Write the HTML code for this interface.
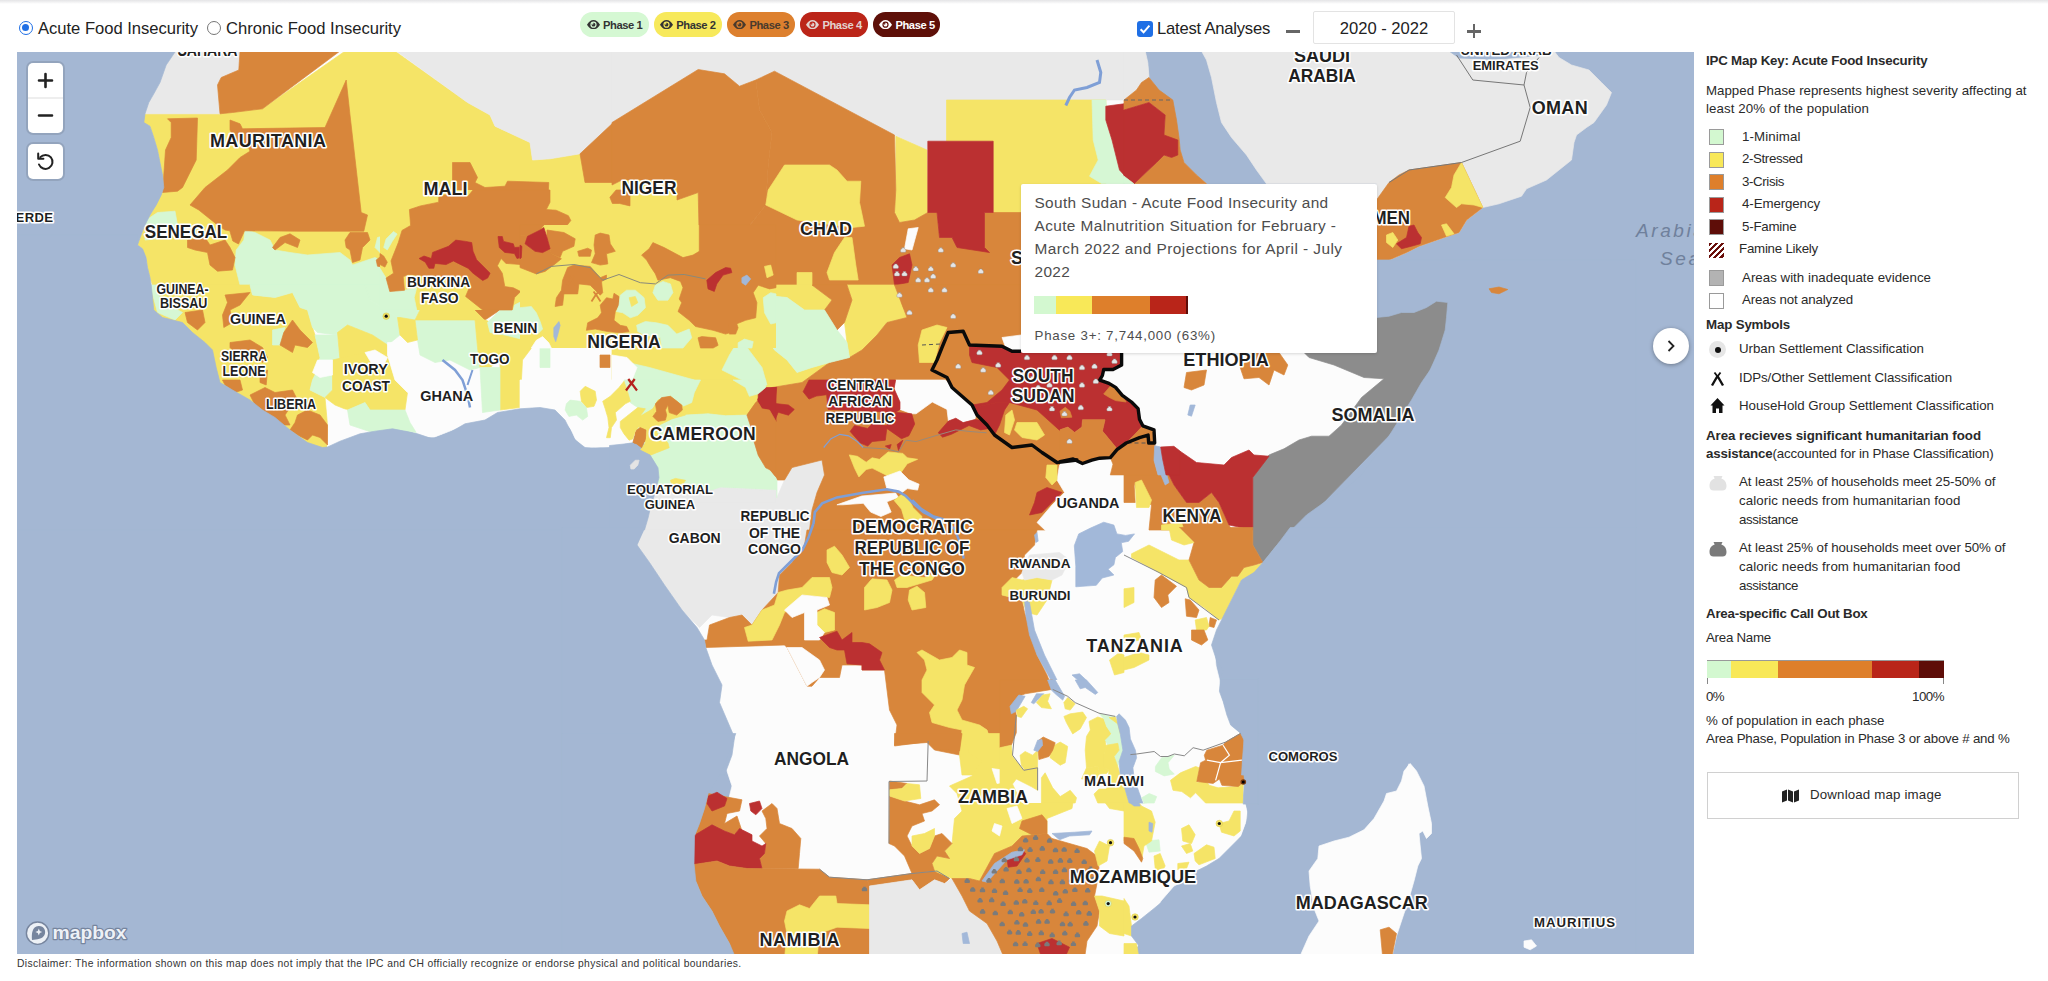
<!DOCTYPE html>
<html lang="en">
<head>
<meta charset="utf-8">
<title>IPC Map</title>
<style>
*{box-sizing:border-box;margin:0;padding:0}
html,body{width:2048px;height:981px;overflow:hidden;background:#fff}
body{font-family:"Liberation Sans",sans-serif;color:#222;position:relative}
.abs{position:absolute}
.topshadow{left:0;top:0;width:2048px;height:4px;background:linear-gradient(#e4e4e6,#fff)}
.t{position:absolute;white-space:nowrap;line-height:1}
/* top bar */
.radio{position:absolute;width:14px;height:14px;border-radius:50%;border:1.3px solid #767676;background:#fff}
.radio.on{border:1.6px solid #1f6fe5}
.radio.on:after{content:"";position:absolute;left:2px;top:2px;width:7.4px;height:7.4px;border-radius:50%;background:#1f6fe5}
.tb{font-size:16.6px;color:#222;top:21.2px}
.pill{position:absolute;top:12.4px;height:24.6px;border-radius:12.3px;font-weight:bold;font-size:11.2px;letter-spacing:-.42px;line-height:24.6px;text-align:left;padding-left:6.2px;white-space:nowrap}
.pill svg{vertical-align:-1px;margin-right:3.4px}.pill span{position:relative;top:.8px}
.chk{left:1137px;top:21px;width:16px;height:16px;border-radius:3px;background:#1f6fe5}
.yrbox{left:1313px;top:11px;width:142px;height:33px;border:1px solid #e3e3e3;border-radius:2px;text-align:center;font-size:16.6px;line-height:33px;color:#222}
/* sidebar */
.sb{font-size:13.3px;color:#2a2a2a}
.sb.b{font-weight:bold}
.sq{position:absolute;left:1709px;width:15px;height:16px;margin-top:-0.4px;border:1px solid #9a9a9a}
/* map */
#map{left:17px;top:52px;width:1677px;height:902px;overflow:hidden;background:#a5b7d2}
.ctrl{position:absolute;left:11px;width:35px;background:#fff;border-radius:5px;box-shadow:0 0 0 2px rgba(0,0,0,.1)}
.pop{left:1021px;top:184px;width:356px;height:168.5px;background:#fff;border-radius:2px;box-shadow:0 1px 3px rgba(0,0,0,.15)}
.pop .t{color:#4d4d4d}
</style>
</head>
<body>
<div class="abs topshadow"></div>

<!-- top bar -->
<div class="radio on" style="left:19px;top:21px"></div>
<div class="t tb" style="left:38px;letter-spacing:-0.024px">Acute Food Insecurity</div>
<div class="radio" style="left:207px;top:21px"></div>
<div class="t tb" style="left:226px;letter-spacing:-0.010px">Chronic Food Insecurity</div>

<div class="pill" style="left:580.4px;width:68.4px;background:#d5f8d3;color:#333"><svg width="13" height="9.300" viewBox="0 0 13 9.300"><path d="M0,4.650C1.800,1.600 4,0 6.500,0S11.200,1.600 13,4.650C11.200,7.700 9,9.300 6.500,9.300S1.800,7.700 0,4.650Z" fill="#333"/><circle cx="6.500" cy="4.650" r="3.100" fill="#d5f8d3"/><circle cx="6.500" cy="4.650" r="1.900" fill="#333"/><circle cx="5.700" cy="3.850" r=".8" fill="#d5f8d3"/></svg><span>Phase 1</span></div>
<div class="pill" style="left:653.7px;width:68.3px;background:#f7e95b;color:#333"><svg width="13" height="9.300" viewBox="0 0 13 9.300"><path d="M0,4.650C1.800,1.600 4,0 6.500,0S11.200,1.600 13,4.650C11.200,7.700 9,9.300 6.500,9.300S1.800,7.700 0,4.650Z" fill="#333"/><circle cx="6.500" cy="4.650" r="3.100" fill="#f7e95b"/><circle cx="6.500" cy="4.650" r="1.900" fill="#333"/><circle cx="5.700" cy="3.850" r=".8" fill="#f7e95b"/></svg><span>Phase 2</span></div>
<div class="pill" style="left:726.8px;width:68.4px;background:#dd802e;color:#4a3a2c"><svg width="13" height="9.300" viewBox="0 0 13 9.300"><path d="M0,4.650C1.800,1.600 4,0 6.500,0S11.200,1.600 13,4.650C11.200,7.700 9,9.300 6.500,9.300S1.800,7.700 0,4.650Z" fill="#4a3a2c"/><circle cx="6.500" cy="4.650" r="3.100" fill="#dd802e"/><circle cx="6.500" cy="4.650" r="1.900" fill="#4a3a2c"/><circle cx="5.700" cy="3.850" r=".8" fill="#dd802e"/></svg><span>Phase 3</span></div>
<div class="pill" style="left:799.8px;width:67.9px;background:#bb2519;color:#e3d3cf"><svg width="13" height="9.300" viewBox="0 0 13 9.300"><path d="M0,4.650C1.800,1.600 4,0 6.500,0S11.200,1.600 13,4.650C11.200,7.700 9,9.300 6.500,9.300S1.800,7.700 0,4.650Z" fill="#e3d3cf"/><circle cx="6.500" cy="4.650" r="3.100" fill="#bb2519"/><circle cx="6.500" cy="4.650" r="1.900" fill="#e3d3cf"/><circle cx="5.700" cy="3.850" r=".8" fill="#bb2519"/></svg><span>Phase 4</span></div>
<div class="pill" style="left:872.8px;width:67.2px;background:#5e1009;color:#fff"><svg width="13" height="9.300" viewBox="0 0 13 9.300"><path d="M0,4.650C1.800,1.600 4,0 6.500,0S11.200,1.600 13,4.650C11.200,7.700 9,9.300 6.500,9.300S1.800,7.700 0,4.650Z" fill="#fff"/><circle cx="6.500" cy="4.650" r="3.100" fill="#5e1009"/><circle cx="6.500" cy="4.650" r="1.900" fill="#fff"/><circle cx="5.700" cy="3.850" r=".8" fill="#5e1009"/></svg><span>Phase 5</span></div>

<div class="abs chk"><svg width="16" height="16" viewBox="0 0 16 16"><path d="M3.600 8.300l3 3 5.800-6.600" fill="none" stroke="#fff" stroke-width="2"/></svg></div>
<div class="t tb" style="left:1157px;letter-spacing:-0.216px">Latest Analyses</div>
<div class="abs" style="left:1286px;top:30px;width:14px;height:2.500px;background:#666"></div>
<div class="abs yrbox">2020 - 2022</div>
<div class="abs" style="left:1467px;top:30px;width:14px;height:2.500px;background:#666"></div>
<div class="abs" style="left:1472.800px;top:24px;width:2.500px;height:14px;background:#666"></div>

<!-- MAP -->
<div class="abs" id="map">
<svg class="abs" style="left:0;top:0" width="1677" height="902" viewBox="17 52 1677 902">
<rect x="17" y="52" width="1677" height="902" fill="#a4b7d3"/>
<polygon points="170,51 165,60 159,75 150,95 145,115 150,130 156,147 161,165 165,185 161,200 152,212 142,230 136,245 145,250 147,260 145,275 150,285 152,300 165,312 180,325 197,340 210,355 215,370 222,385 240,397 260,412 280,427 300,437 320,446 327,447 350,437 375,430 400,427 425,437 435,437 460,427 485,420 520,410 545,407 565,422 580,440 595,447 620,447 635,435 645,440 655,455 660,470 655,485 650,500 647,515 645,530 640,551 637,566 635,581 632,586 645,596 655,611 670,631 687,651 697,666 705,681 707,691 715,711 722,731 720,751 727,771 732,786 727,806 720,821 710,836 702,856 697,876 694,901 697,921 705,941 712,960 1128,960 1141,941 1151,921 1161,901 1174,886 1194,876 1214,863 1229,851 1241,836 1248,816 1244,796 1244,776 1243,756 1241,736 1234,726 1226,706 1221,686 1216,666 1214,646 1221,631 1224,616 1234,601 1239,586 1246,576 1259,566 1269,556 1284,541 1299,521 1314,506 1329,496 1349,475 1374,440 1394,410 1409,390 1424,370 1434,350 1441,330 1446,315 1449,302 1436,301 1424,310 1404,315 1384,320 1376,322 1340,325 1300,330 1260,335 1230,330 1200,315 1195,290 1200,240 1211,185 1199,170 1184,152 1179,140 1174,115 1169,100 1156,90 1149,70 1144,51" fill="#fcfcfc" stroke="#fcfcfc" stroke-width=".7"/>
<polygon points="1409,763 1419,781 1424,801 1431,826 1429,841 1419,861 1409,891 1399,921 1391,960 1299,960 1311,926 1309,891 1314,866 1319,848 1344,841 1369,821 1384,801 1389,788 1401,776" fill="#fcfcfc" stroke="#fcfcfc" stroke-width=".7"/>
<polygon points="145,113.8 220,113.8 262.5,108.8 343.8,52 396.2,52 467.5,102.5 490,115 495,126.2 530,142.5 532.5,160 550,158.8 580,153.8 612,153.8 612,285 152.5,285 150,277.5 147.5,267.5 146.2,257.5 142.5,248.8 137.5,245 143.8,227.5 150,215 156.2,205 161.2,195 163.8,187.5 162.5,175 160,162.5 157.5,150 153.8,137.5 150,126.2 143.8,122.5" fill="#f5e467" stroke="#f5e467" stroke-width=".7"/>
<polygon points="175,51 166.2,65 160,82.5 153.8,93.8 148.8,102.5 145,113.8 220,113.8 217.5,85 221.2,77.5 238.8,70 240,51" fill="#e9e9e9" stroke="#e9e9e9" stroke-width=".7"/>
<polygon points="396.2,51 467.5,102.5 490,115 495,126.2 530,142.5 532.5,160 550,158.8 580,153.8 612,123.8 612,51" fill="#e9e9e9" stroke="#e9e9e9" stroke-width=".7"/>
<polygon points="245,230 255,232.5 270,240 275,250 290,252.5 307.5,255 340,252.5 350,260 352.5,265 375,257.5 390,265 390,285 240,285 235,265 236.2,250 243.8,240" fill="#d6f7d4" stroke="#d6f7d4" stroke-width=".7"/>
<polygon points="377.5,237.5 400,231.2 398.8,247.5 382.5,255 375,247.5" fill="#d6f7d4" stroke="#d6f7d4" stroke-width=".7"/>
<polygon points="146.2,220 157.5,212.5 175,211.2 177.5,225 170,237.5 145,240" fill="#d6f7d4" stroke="#d6f7d4" stroke-width=".7"/>
<polygon points="240,51 238.8,70 221.2,77.5 217.5,85 220,113.8 232.5,112.5 262.5,108.8 340,51" fill="#d8863b" stroke="#d8863b" stroke-width=".7"/>
<polygon points="167.5,118.8 197.5,118 196.2,160 191.2,170 182.5,187.5 177.5,191.2 162.5,192.5 163.8,175 165.5,150 171.2,137.5 171.2,122.5" fill="#d8863b" stroke="#d8863b" stroke-width=".7"/>
<polygon points="230,120 240,123.8 242.5,128.8 325,127.5 346.2,80 350,115 361.2,212.5 367.5,215 363.8,231.2 300,231.2 244.5,230.8 238.5,244 232.8,241 229.8,230.8 225,230 217.5,225 205,215 198.8,210 190,205 205,187.5 227.5,170 240,157.5 250,151.2 247.5,145 235,140 230,130" fill="#d8863b" stroke="#d8863b" stroke-width=".7"/>
<polygon points="187.5,240 205,237.5 210,245 225,240 230,247.5 235,257.5 232.5,270 217.5,271.2 210,265 207.5,252.5 195,250 187.5,247.5" fill="#d8863b" stroke="#d8863b" stroke-width=".7"/>
<polygon points="272.5,247.5 280,237.5 290,233.8 300,240 297.5,247.5 285,242.5 275,250" fill="#d8863b" stroke="#d8863b" stroke-width=".7"/>
<polygon points="345,240 350,232.5 367.5,232.5 370,240 362.5,247.5 360,260 352.5,262.5 350,250 346.2,247.5" fill="#d8863b" stroke="#d8863b" stroke-width=".7"/>
<polygon points="376.2,260 382.5,255 387.5,262.5 385,267.5 377.5,266.2" fill="#d8863b" stroke="#d8863b" stroke-width=".7"/>
<polygon points="452.5,162.5 470,162.5 477.5,177.5 475,182.5 485,187.5 505,186.2 507.5,181.2 548.8,182.5 547.5,210 562.5,211.2 570,220 565,232.5 572.5,240 575,247.5 565,252.5 550,250 547.5,265 537.5,272.5 525,265 512.5,270 500,280 490,285 390,285 390,265 397.5,257.5 400,240 402.5,230 410,225 410,210 425,205 450,202.5 455,195 452.5,185" fill="#d8863b" stroke="#d8863b" stroke-width=".7"/>
<polygon points="580,153.8 612,123.8 612,182.5 585,182.5" fill="#d8863b" stroke="#d8863b" stroke-width=".7"/>
<polygon points="420,260 430,252.5 450,245 460,240 472.5,242.5 475,255 482.5,265 490,272.5 485,280 475,275 465,265 455,260 445,265 432.5,267.5 425,265" fill="#bb3031" stroke="#bb3031" stroke-width=".7"/>
<polygon points="497.5,237.5 502.5,236.2 505,242.5 520,245 522.5,252.5 517.5,257.5 505,255 500,250" fill="#bb3031" stroke="#bb3031" stroke-width=".7"/>
<polygon points="527.5,240 540,228.8 545,230 548.8,250 540,252.5 532.5,247.5" fill="#bb3031" stroke="#bb3031" stroke-width=".7"/>
<polygon points="612,51 612,122.5 698.2,69.5 724.5,73.8 739.5,86.2 755.8,80 774.5,71.2 894.5,135 927,150 927.8,141.2 946.5,141.2 946.5,100 1124,100 1124,51" fill="#e9e9e9" stroke="#e9e9e9" stroke-width=".7"/>
<polygon points="946.5,100 1105.8,100 1105.8,215 984.5,215 993.2,212.5 993.2,141.2 946.5,141.2" fill="#f5e467" stroke="#f5e467" stroke-width=".7"/>
<polygon points="895.8,136.2 927,150 927.8,212.5 914.5,220 899.5,222.5 894.5,212.5 895.8,190" fill="#f5e467" stroke="#f5e467" stroke-width=".7"/>
<polygon points="612,185 622,180 677,180 677,200 698.2,192.5 699.5,252.5 672,257.5 654.5,242.5 644.5,252.5 644.5,285 612,285" fill="#f5e467" stroke="#f5e467" stroke-width=".7"/>
<polygon points="612,122.5 698.2,69.5 724.5,73.8 739.5,86.2 755.8,80 759.5,110 772,132.5 768.2,165 765.8,205 752,222.5 737,240 729.5,252.5 699.5,252.5 698.2,192.5 677,200 677,180 622,180 612,185" fill="#d8863b" stroke="#d8863b" stroke-width=".7"/>
<polygon points="755.8,80 774.5,71.2 894.5,135 895.8,190 894.5,212.5 899.5,222.5 914.5,220 927.8,212.5 937,212.5 939.5,237.5 952,237.5 957,247.5 984.5,247.5 984.5,212.5 1022,212.5 1022,285 644.5,285 644.5,252.5 654.5,242.5 672,257.5 699.5,252.5 729.5,252.5 737,240 752,222.5 765.8,205 768.2,165 772,132.5 759.5,110" fill="#d8863b" stroke="#d8863b" stroke-width=".7"/>
<polygon points="784.5,165 829.5,165 837,170 847,181.2 860.8,181.2 859.5,202.5 864.5,226.2 852,227.5 797,220 765.8,205 768.2,190" fill="#f5e467" stroke="#f5e467" stroke-width=".7"/>
<polygon points="844.5,237.5 852,237.5 855.8,265 858.2,280 829.5,280 827,272.5 834.5,252.5" fill="#f5e467" stroke="#f5e467" stroke-width=".7"/>
<polygon points="764.5,266.2 772,266.2 773.2,277.5 764.5,277.5" fill="#f5e467" stroke="#f5e467" stroke-width=".7"/>
<polygon points="797,272.5 812,272.5 812,285 797,285" fill="#f5e467" stroke="#f5e467" stroke-width=".7"/>
<polygon points="908.2,228.8 918.2,227.5 912,250 904.5,248.8" fill="#fcfcfc" stroke="#fcfcfc" stroke-width=".7"/>
<polygon points="1092,100 1105.8,100 1107,115 1112,140 1119.5,170 1124,176.2 1124,183.8 1102,183.8 1089.5,176.2 1098.2,160 1093.2,140" fill="#d6f7d4" stroke="#d6f7d4" stroke-width=".7"/>
<polygon points="1105.8,106.2 1124,103.8 1124,175 1119.5,170 1112,140 1105.8,120" fill="#bb3031" stroke="#bb3031" stroke-width=".7"/>
<polygon points="899.5,257.5 909.5,253.8 912,265 908.2,282.5 894.5,285 892,265" fill="#bb3031" stroke="#bb3031" stroke-width=".7"/>
<polygon points="902.3,289.3 909,289.3 908.4,297.8 912.7,297.8 904.8,308.9 900.5,307.6 902.3,297.8" fill="#bb3031" stroke="#bb3031" stroke-width=".7"/>
<polygon points="927.8,141.2 993.2,141.2 993.2,212.5 984.5,212.5 984.5,247.5 989.5,252.5 957,247.5 952,237.5 939.5,237.5 937,212.5 927.8,212.5" fill="#bb3031" stroke="#bb3031" stroke-width=".7"/>
<polygon points="707,280 717,271.2 727,267.5 732,272.5 722,278.8 714.5,285 708.2,285" fill="#bb3031" stroke="#bb3031" stroke-width=".7"/>
<polygon points="743.2,277.5 749.5,276.2 750.8,283.8 744.5,284.5" fill="#a2b8d9" stroke="#a2b8d9" stroke-width=".7"/>
<polygon points="1145.2,51 1147.8,62.5 1149,77.5 1159,90 1172.8,100 1176.5,120 1179,137.5 1180.2,150 1184,162.5 1196.5,175 1206.5,183.8 1224,200 1376.5,200 1376.5,183.8 1266.5,183.8 1256.5,170 1246.5,155 1231.5,137.5 1221.5,122.5 1216.5,102.5 1211.5,77.5 1206.5,60 1201.5,51" fill="#a4b7d3" stroke="#a4b7d3" stroke-width=".7"/>
<polygon points="1124,51 1145.2,51 1147.8,62.5 1149,77.5 1141.5,82.5 1136.5,90 1124,100" fill="#e9e9e9" stroke="#e9e9e9" stroke-width=".7"/>
<polygon points="1201.5,51 1206.5,60 1211.5,77.5 1216.5,102.5 1221.5,122.5 1231.5,137.5 1246.5,155 1256.5,170 1266.5,183.8 1376.5,183.8 1376.5,263.8 1389,260 1406.5,252.5 1419,246.2 1444,237.5 1459,232.5 1466.5,220 1482.8,207.5 1499,203.8 1521.5,196.2 1526.5,188.8 1546.5,180 1559,170 1571.5,160 1574,142.5 1576.5,135 1586.5,127.5 1594,122.5 1606.5,105 1611.5,92.5 1601.5,82.5 1589,70 1571.5,65 1559,57.5 1554,51" fill="#e9e9e9" stroke="#e9e9e9" stroke-width=".7"/>
<polygon points="1449,51 1459,58 1494,59.5 1539,55.5 1554,51" fill="#a4b7d3" stroke="#a4b7d3" stroke-width=".7"/>
<polygon points="1149,77.5 1159,90 1172.8,100 1176.5,120 1179,137.5 1180.2,150 1184,162.5 1196.5,175 1206.5,183.8 1134,183.8 1156.5,162.5 1164,155 1171.5,157.5 1177.8,150 1164,135 1165.2,115 1149,102.5 1124,110 1124,100 1136.5,90 1141.5,82.5" fill="#d8863b" stroke="#d8863b" stroke-width=".7"/>
<polygon points="1124,110 1149,102.5 1165.2,115 1164,135 1177.8,140 1177.8,155 1171.5,157.5 1164,155 1156.5,162.5 1134,183.8 1124,176.2" fill="#bb3031" stroke="#bb3031" stroke-width=".7"/>
<polygon points="1124,176.2 1134,183.8 1124,183.8" fill="#d6f7d4" stroke="#d6f7d4" stroke-width=".7"/>
<polygon points="1376.5,200 1389,182.5 1399,175 1409,170 1461.5,162.5 1482.8,207.5 1466.5,220 1459,232.5 1444,237.5 1419,246.2 1406.5,252.5 1389,260 1376.5,263.8" fill="#d8863b" stroke="#d8863b" stroke-width=".7"/>
<polygon points="1461.5,162.5 1482.8,207.5 1474,205 1461.5,203.8 1456.5,207.5 1445.2,197.5 1451.5,187.5 1454,175" fill="#f5e467" stroke="#f5e467" stroke-width=".7"/>
<polygon points="1441.5,225 1446.5,223.8 1454,233.8 1446.5,236.2" fill="#f5e467" stroke="#f5e467" stroke-width=".7"/>
<polygon points="1386.5,235 1392.8,232.5 1397.8,240 1392.8,247.5 1386.5,242.5" fill="#f5e467" stroke="#f5e467" stroke-width=".7"/>
<polygon points="1409,226.2 1414,225 1417.8,232.5 1421.5,237.5 1420.2,243.8 1411.5,246.2 1401.5,248.8 1396.5,243.8 1406.5,237.5" fill="#bb3031" stroke="#bb3031" stroke-width=".7"/>
<polygon points="150,285 250,285 252.5,295 275,297.5 292.5,292.5 300,307.5 307.5,310 312.5,327.5 315,335 320,357.5 317.5,370 312.5,380 310,390 325,397.5 327.5,425 327.5,450 275,450 200,385 150,335" fill="#f5e467" stroke="#f5e467" stroke-width=".7"/>
<polygon points="250,285 390,285 370,300 397.5,317.5 400,335 387.5,345 372.5,335 360,330 347.5,325 337.5,335 317.5,332.5 312.5,327.5 307.5,310 300,307.5 292.5,292.5 275,297.5 252.5,295" fill="#d6f7d4" stroke="#d6f7d4" stroke-width=".7"/>
<polygon points="272.5,330 285,327.5 280,345 272.5,345" fill="#d6f7d4" stroke="#d6f7d4" stroke-width=".7"/>
<polygon points="315,335 337.5,335 340,360 332.5,367.5 332.5,390 325,397.5 310,390 312.5,380 317.5,370 320,357.5" fill="#d6f7d4" stroke="#d6f7d4" stroke-width=".7"/>
<polygon points="337.5,332.5 347.5,325 360,330 372.5,335 387.5,345 387.5,355 365,352.5 360,360 340,360" fill="#f5e467" stroke="#f5e467" stroke-width=".7"/>
<polygon points="332.5,360 365,352.5 387.5,355 395,380 407.5,392.5 405,410 370,410 365,402.5 347.5,410 335,405 325,397.5 332.5,390" fill="#f5e467" stroke="#f5e467" stroke-width=".7"/>
<polygon points="387.5,342.5 412.5,342.5 418.8,357.5 420,375 410,385 407.5,392.5 395,380 387.5,355" fill="#fcfcfc" stroke="#fcfcfc" stroke-width=".7"/>
<polygon points="317.5,360 332.5,360 332.5,375 320,377.5 312.5,372.5" fill="#fcfcfc" stroke="#fcfcfc" stroke-width=".7"/>
<polygon points="328.8,410 347.5,410 350,425 372.5,432.5 360,435 327.5,447.5" fill="#fcfcfc" stroke="#fcfcfc" stroke-width=".7"/>
<polygon points="365,352.5 375,350 387.5,357.5 382.5,367.5 372.5,365" fill="#fcfcfc" stroke="#fcfcfc" stroke-width=".7"/>
<polygon points="347.5,410 365,402.5 370,410 405,410 410,422.5 416.2,432.5 392.5,428.8 372.5,432.5 350,425" fill="#d6f7d4" stroke="#d6f7d4" stroke-width=".7"/>
<polygon points="415,320 475,320 477.5,347.5 480,367.5 470,370 450,360 435,362.5 420,355 417.5,340" fill="#d6f7d4" stroke="#d6f7d4" stroke-width=".7"/>
<polygon points="365,285 425,285 425,300 415,320 397.5,317.5 370,300" fill="#d6f7d4" stroke="#d6f7d4" stroke-width=".7"/>
<polygon points="425,285 465,285 467.5,297.5 475,310 485,320 415,320 425,300" fill="#f5e467" stroke="#f5e467" stroke-width=".7"/>
<polygon points="400,317.5 415,320 417.5,340 407.5,342.5 400,335 397.5,317.5" fill="#f5e467" stroke="#f5e467" stroke-width=".7"/>
<polygon points="465,285 515,285 512.5,305 500,310 485,320 475,310 467.5,297.5" fill="#d8863b" stroke="#d8863b" stroke-width=".7"/>
<polygon points="485,320 537.5,340 522.5,360 520,407.5 500,410 500,360 485,335" fill="#f5e467" stroke="#f5e467" stroke-width=".7"/>
<polygon points="475,320 485,320 500,360 490,367.5 480,367.5 477.5,347.5" fill="#f5e467" stroke="#f5e467" stroke-width=".7"/>
<polygon points="480,367.5 500,367.5 500,410 482.5,412.5" fill="#d6f7d4" stroke="#d6f7d4" stroke-width=".7"/>
<polygon points="500,310 525,307.5 537.5,322.5 537.5,335 525,340 505,335 490,332.5 487.5,322.5" fill="#d6f7d4" stroke="#d6f7d4" stroke-width=".7"/>
<polygon points="515,285 612,285 612,335 587.5,335 575,347.5 550,345 537.5,340 537.5,322.5 525,307.5 512.5,305" fill="#f5e467" stroke="#f5e467" stroke-width=".7"/>
<polygon points="557.5,285 575,285 572.5,300 562.5,305 557.5,297.5" fill="#d8863b" stroke="#d8863b" stroke-width=".7"/>
<polygon points="587.5,317.5 612,310 612,335 597.5,330 587.5,325" fill="#d8863b" stroke="#d8863b" stroke-width=".7"/>
<polygon points="600,355 610,355 610,367.5 600,367.5" fill="#d8863b" stroke="#d8863b" stroke-width=".7"/>
<polygon points="580,390 597.5,390 597.5,405 580,405" fill="#f5e467" stroke="#f5e467" stroke-width=".7"/>
<polygon points="565,402.5 587.5,405 587.5,420 565,417.5" fill="#d6f7d4" stroke="#d6f7d4" stroke-width=".7"/>
<polygon points="605,397.5 612,397.5 612,415 605,415" fill="#f5e467" stroke="#f5e467" stroke-width=".7"/>
<polygon points="540,347.5 550,347.5 550,367.5 540,367.5" fill="#d6f7d4" stroke="#d6f7d4" stroke-width=".7"/>
<polygon points="250,395 265,387.5 275,392.5 292.5,390 297.5,400 290,407.5 285,415 290,425 280,425 270,415 255,405" fill="#d8863b" stroke="#d8863b" stroke-width=".7"/>
<polygon points="297.5,415 307.5,410 320,415 327.5,425 327.5,445 320,437.5 312.5,435 307.5,440 297.5,435 290,430 295,422.5" fill="#d8863b" stroke="#d8863b" stroke-width=".7"/>
<polygon points="230,342.5 250,340 262.5,347.5 267.5,357.5 262.5,362.5 250,352.5 235,352.5 230,347.5" fill="#d8863b" stroke="#d8863b" stroke-width=".7"/>
<polygon points="222.5,380 240,380 242.5,390 235,392.5 225,385" fill="#d8863b" stroke="#d8863b" stroke-width=".7"/>
<polygon points="260,375 267.5,370 266.2,385 260,382.5" fill="#d8863b" stroke="#d8863b" stroke-width=".7"/>
<polygon points="185,312.5 202.5,310 205,322.5 197.5,330 187.5,322.5" fill="#d8863b" stroke="#d8863b" stroke-width=".7"/>
<polygon points="225,295 250,292.5 240,305 230,310 232.5,322.5 223.8,327.5 222.5,315 227.5,302.5" fill="#d8863b" stroke="#d8863b" stroke-width=".7"/>
<polygon points="283.8,332.5 292.5,320 300,330 312.5,342.5 307.5,347.5 295,345 292.5,352.5 280,345" fill="#d8863b" stroke="#d8863b" stroke-width=".7"/>
<polygon points="150,285 157.5,285 160,300 182.5,312.5 175,320 157.5,312.5" fill="#d6f7d4" stroke="#d6f7d4" stroke-width=".7"/>
<polygon points="649.5,492.5 655.8,486.2 719.5,487.5 723.2,497.5 777,497.5 784.5,480 792,467.5 822,460 824.5,475 817,492.5 812,510 809.5,530 643.2,530 644.5,517.5 647,505" fill="#e9e9e9" stroke="#e9e9e9" stroke-width=".7"/>
<polygon points="612,285 764.5,285 762,315 764.5,335 774.5,350 787,360 797,372.5 812,367.5 829.5,362.5 802,382.5 772,387.5 759.5,397.5 747,412.5 687,407.5 662,415 644.5,420 637,430 612,432.5" fill="#f5e467" stroke="#f5e467" stroke-width=".7"/>
<polygon points="764.5,285 812,285 832,300 824.5,310 804.5,310 787,297.5 762,295" fill="#f5e467" stroke="#f5e467" stroke-width=".7"/>
<polygon points="847,285 894.5,285 907,317.5 887,322.5 877,335 862,350 849.5,357.5 847,342.5 844.5,322.5 852,300" fill="#f5e467" stroke="#f5e467" stroke-width=".7"/>
<polygon points="747,412.5 759.5,397.5 772,387.5 802,382.5 829.5,362.5 849.5,357.5 862,350 877,335 887,322.5 907,317.5 894.5,285 1021,285 1021,352.5 1124,352.5 1124,530 809.5,530 812,510 817,492.5 824.5,475 822,460 792,467.5 784.5,480 777,480 762,460 754.5,455 752,435" fill="#d8863b" stroke="#d8863b" stroke-width=".7"/>
<polygon points="812,285 847,285 852,300 844.5,322.5 837,330 824.5,310 832,300" fill="#d8863b" stroke="#d8863b" stroke-width=".7"/>
<polygon points="922,330 937,325 947,327.5 939.5,342.5 934.5,362.5 919.5,362.5 918.2,345" fill="#f5e467" stroke="#f5e467" stroke-width=".7"/>
<polygon points="657,485 655.8,460 642,440 637,430 644.5,420 662,415 687,407.5 747,412.5 752,435 754.5,455 762,460 777,480 777,497.5 723.2,497.5 719.5,487.5" fill="#d6f7d4" stroke="#d6f7d4" stroke-width=".7"/>
<polygon points="762,295 787,297.5 804.5,310 824.5,310 837,330 847,342.5 849.5,357.5 829.5,362.5 812,367.5 797,372.5 787,360 774.5,350 764.5,335 762,315" fill="#d6f7d4" stroke="#d6f7d4" stroke-width=".7"/>
<polygon points="737,342.5 747,347.5 762,367.5 767,385 752,385 737,377.5 722,370 729.5,355" fill="#d6f7d4" stroke="#d6f7d4" stroke-width=".7"/>
<polygon points="617,360 649.5,367.5 694.5,380 697,392.5 687,407.5 662,415 644.5,420 637,410 627,400 612,390" fill="#d6f7d4" stroke="#d6f7d4" stroke-width=".7"/>
<polygon points="679.5,285 752,285 757,300 752,317.5 737,320 729.5,332.5 712,327.5 694.5,315 684.5,300" fill="#d8863b" stroke="#d8863b" stroke-width=".7"/>
<polygon points="699.5,337.5 717,335 719.5,345 704.5,347.5" fill="#d8863b" stroke="#d8863b" stroke-width=".7"/>
<polygon points="657,400 672,395 682,405 677,415 664.5,415 654.5,422.5 652,410" fill="#d8863b" stroke="#d8863b" stroke-width=".7"/>
<polygon points="634.5,432.5 644.5,427.5 647,440 639.5,445" fill="#d8863b" stroke="#d8863b" stroke-width=".7"/>
<polygon points="612,355 627,357.5 637,367.5 632,380 622,385 612,390" fill="#fcfcfc" stroke="#fcfcfc" stroke-width=".7"/>
<polygon points="612,400 627,405 624.5,420 612,425" fill="#fcfcfc" stroke="#fcfcfc" stroke-width=".7"/>
<polygon points="1002,337.5 1021,335 1021,350 1007,351.2" fill="#fcfcfc" stroke="#fcfcfc" stroke-width=".7"/>
<polygon points="1059.5,465 1112,463.8 1125,475 1125,532 1047,532 1037,522.5 1052,505 1064.5,492.5 1057,480" fill="#fcfcfc" stroke="#fcfcfc" stroke-width=".7"/>
<polygon points="1047,465 1057,465 1057,480 1052,485 1045.8,477.5" fill="#f5e467" stroke="#f5e467" stroke-width=".7"/>
<polygon points="1037,492.5 1047,487.5 1062,492.5 1052,502.5 1042,512.5 1029.5,515 1034.5,502.5" fill="#bb3031" stroke="#bb3031" stroke-width=".7"/>
<polygon points="969.5,345 1002,346.2 1012,351.2 1124,352.5 1124,367.5 1102,380 1119.5,390 1124,395 1124,435 1109.5,440 1102,430 1109.5,420 1079.5,420 1072,432.5 1062,432.5 1037,410 1009.5,402.5 997,402.5 974.5,407.5 972,405 987,402.5 1002,390 1009.5,380 997,367.5 972,362.5 969.5,355" fill="#bb3031" stroke="#bb3031" stroke-width=".7"/>
<polygon points="974.5,407.5 997,402.5 1009.5,402.5 1004.5,410 999.5,425 994.5,435 987,425 977,415" fill="#bb3031" stroke="#bb3031" stroke-width=".7"/>
<polygon points="1005.8,415 1012,410 1014.5,420 1009.5,435 1004.5,432.5" fill="#f5e467" stroke="#f5e467" stroke-width=".7"/>
<polygon points="1017,422.5 1037,422.5 1044.5,435 1037,440 1022,437.5 1014.5,430" fill="#f5e467" stroke="#f5e467" stroke-width=".7"/>
<polygon points="895.6,380 945.5,380 951.4,385.9 960.2,393.2 971.9,405 973.4,406.4 976.3,413.8 974.8,419.6 963.1,422.6 955.8,418.2 948.4,421.1 947,409.4 932.3,402 916.1,413.8 911.7,413.8 900,409.4 900,402 894.1,388.8" fill="#fcfcfc" stroke="#fcfcfc" stroke-width=".7"/>
<polygon points="757.6,399.1 766.4,388.8 776.7,387.3 775.2,403.5 788.4,405 794.3,409.4 788.4,415.2 778.2,412.3 775.2,419.6 769.4,410.8 762,406.4" fill="#bb3031" stroke="#bb3031" stroke-width=".7"/>
<polygon points="803.1,391.7 809,380 895.6,380 894.1,388.8 900,402 900,409.4 895.6,412.3 828.1,409.4 826.6,394.7 816.3,396.1 809,399.1" fill="#bb3031" stroke="#bb3031" stroke-width=".7"/>
<polygon points="895.6,412.3 911.7,413.8 914.7,424 908.8,435.8 901.5,438.7 886.8,428.4 885.3,440.2 872.1,441.6 867.7,446.1 860.4,443.1 850.1,431.4 854.5,425.5 867.7,428.4 872.1,424 886.8,425.5" fill="#bb3031" stroke="#bb3031" stroke-width=".7"/>
<polygon points="885.3,446.1 891.2,444.6 889.7,449" fill="#bb3031" stroke="#bb3031" stroke-width=".7"/>
<polygon points="897.1,444.6 902.9,440.2 898.5,450.5" fill="#bb3031" stroke="#bb3031" stroke-width=".7"/>
<polygon points="938.2,432.8 948.4,421.1 955.8,418.2 963.1,422.6 974.8,419.6 988.1,421.1 989.5,428.4 980.7,429.9 969,425.5 960.2,429.9 951.4,434.3 942.6,437.2" fill="#bb3031" stroke="#bb3031" stroke-width=".7"/>
<polygon points="849.3,454.9 857.4,456.3 866.2,462.2 872.1,457.8 879.4,459.3 888.2,451.9 902.9,453.4 907.3,457.8 917.6,459.3 907.3,463.7 900,473.9 886.8,475.4 872.1,468.1 866.2,469.5 858.9,476.9 854.5,468.1" fill="#f5e467" stroke="#f5e467" stroke-width=".7"/>
<polygon points="883.8,476.9 900,471 908.8,479.8 919.1,484.2 917.6,490.1 907.3,488.6 901.5,493 886.8,488.6" fill="#fcfcfc" stroke="#fcfcfc" stroke-width=".7"/>
<polygon points="836.9,504.8 861.8,496 895.6,493 898.5,497.4 886.8,501.8 891.2,512.1 880.9,516.5 870.6,512.1 863.3,503.3 842.7,504.8" fill="#fcfcfc" stroke="#fcfcfc" stroke-width=".7"/>
<polygon points="894.1,500.4 901.5,494.5 908.8,498.9 913.2,507.7 922,516.5 920.5,524 905.9,524 901.5,509.2" fill="#f5e467" stroke="#f5e467" stroke-width=".7"/>
<polygon points="1124,352.5 1376.5,352.5 1384,378.8 1361.5,397.5 1341.5,425 1329,436.2 1284,448.8 1252.8,477.5 1252.8,530 1124,530" fill="#fcfcfc" stroke="#fcfcfc" stroke-width=".7"/>
<polygon points="1376.5,310 1449,297.5 1449,335 1399,425 1296.5,530 1252.8,530 1252.8,477.5 1269,455 1284,448.8 1299,440 1311.5,436.2 1329,436.2 1341.5,425 1361.5,397.5 1384,378.8 1364,377.5 1334,365 1309,357.5 1304,352.5 1376.5,352.5" fill="#8c8c8c" stroke="#8c8c8c" stroke-width=".7"/>
<polygon points="1240.2,367.5 1254,352.5 1279,352.5 1287.8,365 1284,375 1274,370 1269,385 1259,377.5 1244,378.8" fill="#d8863b" stroke="#d8863b" stroke-width=".7"/>
<polygon points="1184,387.5 1186.5,372.5 1206.5,370 1204,385 1191.5,390" fill="#d8863b" stroke="#d8863b" stroke-width=".7"/>
<polygon points="1124,445 1154,442.5 1161.5,447.5 1164,465 1174,485 1186.5,502.5 1199,502.5 1211.5,492.5 1219,502.5 1229,525 1231.5,530 1149,530 1151.5,505 1139,497.5 1134,482.5 1135.2,502.5 1124,502.5" fill="#d8863b" stroke="#d8863b" stroke-width=".7"/>
<polygon points="1124,425 1141.5,430 1154,428.8 1154,442.5 1124,445" fill="#d8863b" stroke="#d8863b" stroke-width=".7"/>
<polygon points="1161.5,447.5 1174,447 1196.5,462.5 1224,465 1231.5,457.5 1249,450 1254,455 1269,456.2 1252.8,477.5 1252.8,530 1229,525 1219,502.5 1211.5,492.5 1199,502.5 1186.5,502.5 1174,485 1164,465" fill="#bb3031" stroke="#bb3031" stroke-width=".7"/>
<polygon points="1124,395 1134,405 1139,420 1141.5,430 1129,437.5 1124,440" fill="#bb3031" stroke="#bb3031" stroke-width=".7"/>
<polygon points="1135.2,482.5 1141.5,480 1151.5,500 1149,507.5 1136.5,507.5" fill="#f5e467" stroke="#f5e467" stroke-width=".7"/>
<polygon points="1161.5,525 1181.5,522.5 1184,530 1161.5,530" fill="#f5e467" stroke="#f5e467" stroke-width=".7"/>
<polygon points="1156.5,445 1161.5,447.5 1164,465 1169,482.5 1165.2,485 1159,470 1154,460" fill="#a2b8d9" stroke="#a2b8d9" stroke-width=".7"/>
<polygon points="1190.2,405 1195.2,405 1191.5,416.2 1187.8,415" fill="#a2b8d9" stroke="#a2b8d9" stroke-width=".7"/>
<polygon points="644.5,530 807,530 804.5,545 792,562.5 779.5,575 778.2,592.5 762,610 752,625 742,615 729.5,617.5 712,615 699.5,627.5 682,610 664.5,585 649.5,562.5 637,545" fill="#e9e9e9" stroke="#e9e9e9" stroke-width=".7"/>
<polygon points="807,530 1037,530 1034.5,545 1024.5,555 1022,572.5 1007,587.5 1002,595 1022,600 1024.5,612.5 1032,635 1037,655 1047,675 1052,687.5 1032,692.5 1017,700 1014.5,715 1014.5,737.5 1007,747.5 992,745 987,730 979.5,725 962,730 959.5,755 934.5,750 927,742.5 894.5,745 897,725 889.5,710 887,690 884.5,670 862,670 862,665 842,665 839.5,677.5 819.5,677.5 812,686.2 807,686.2 787,647.5 784.5,645 705.8,647.5 704.5,640 707,640 709.5,625 729.5,617.5 742,615 752,625 762,610 778.2,592.5 779.5,575 792,562.5 804.5,545" fill="#d8863b" stroke="#d8863b" stroke-width=".7"/>
<polygon points="787,647.5 802,647.5 819.5,660 824.5,670 819.5,677.5 812,682.5 807,686.2" fill="#fcfcfc" stroke="#fcfcfc" stroke-width=".7"/>
<polygon points="744.5,627.5 752,625 762,610 774.5,605 778.2,592.5 787,590 802,587.5 812,577.5 829.5,577.5 832,587.5 829.5,597.5 802,595 797,605 784.5,612.5 779.5,625 772,640 748.2,641.2" fill="#f5e467" stroke="#f5e467" stroke-width=".7"/>
<polygon points="827,550 834.5,546.2 842,555 849.5,567.5 842,575 832,572.5 827,562.5" fill="#f5e467" stroke="#f5e467" stroke-width=".7"/>
<polygon points="864.5,587.5 872,578.8 887,580 892,590 889.5,602.5 877,607.5 864.5,610" fill="#f5e467" stroke="#f5e467" stroke-width=".7"/>
<polygon points="909.5,590 917,586.2 924.5,592.5 925.8,607.5 912,610 908.2,600" fill="#f5e467" stroke="#f5e467" stroke-width=".7"/>
<polygon points="817,612.5 824.5,608.8 834.5,612.5 834.5,630 824.5,632.5 817,625" fill="#f5e467" stroke="#f5e467" stroke-width=".7"/>
<polygon points="894.5,580 902,575 924.5,577.5 937,572.5 932,580 907,587.5 897,587.5" fill="#f5e467" stroke="#f5e467" stroke-width=".7"/>
<polygon points="917,652.5 922,650 939.5,660 952,657.5 959.5,650 967,652.5 967,665 974.5,667.5 964.5,685 962,700 957,710 962,720 979.5,725 987,730 992,745 987,755 1002,762.5 1012,755 1024.5,760 1037,775 962,775 959.5,755 962,730 949.5,727.5 932,722.5 929.5,712.5 934.5,705 922,692.5 922,680 927,670 924.5,660" fill="#f5e467" stroke="#f5e467" stroke-width=".7"/>
<polygon points="1002,587.5 1012,577.5 1022,580 1037,577.5 1052,580 1047,600 1037,615 1027,612.5 1022,600 1002,595" fill="#f5e467" stroke="#f5e467" stroke-width=".7"/>
<polygon points="784.5,610 802,595 827,597.5 829.5,605 817,610 817,625 824.5,632.5 819.5,640 804.5,640 804.5,612.5 792,617.5" fill="#fcfcfc" stroke="#fcfcfc" stroke-width=".7"/>
<polygon points="819.5,637.5 837,631.2 842,640 852,632.5 852,642.5 862,642.5 869.5,643.8 882,652.5 879.5,660 884.5,670 862,670 862,665 847,663.8 844.5,650 837,650 829.5,647.5" fill="#bb3031" stroke="#bb3031" stroke-width=".7"/>
<polygon points="1022,572.5 1029.5,555 1059.5,552.5 1069.5,560 1062,575 1052,580 1037,577.5 1024.5,580" fill="#e9e9e9" stroke="#e9e9e9" stroke-width=".7"/>
<polygon points="1024.5,600 1029.5,602.5 1034.5,630 1044.5,655 1059.5,685 1064.5,696.2 1059.5,697.5 1049.5,677.5 1037,655 1029.5,635 1025.8,615" fill="#a2b8d9" stroke="#a2b8d9" stroke-width=".7"/>
<polygon points="1012,700 1022,695 1024.5,702.5 1017,710 1010.8,708.8" fill="#a2b8d9" stroke="#a2b8d9" stroke-width=".7"/>
<polygon points="1072,675 1079.5,673.8 1097,690 1092,692.5" fill="#a2b8d9" stroke="#a2b8d9" stroke-width=".7"/>
<polygon points="1034.5,535 1037,532.5 1038.2,541.2 1035.8,542.5" fill="#a2b8d9" stroke="#a2b8d9" stroke-width=".7"/>
<polygon points="1022,705 1032,695 1049.5,690 1052,705 1037,710 1027,715" fill="#f5e467" stroke="#f5e467" stroke-width=".7"/>
<polygon points="1064.5,720 1077,712.5 1084.5,717.5 1079.5,730 1069.5,732.5" fill="#f5e467" stroke="#f5e467" stroke-width=".7"/>
<polygon points="1087,722.5 1099.5,717.5 1109.5,730 1107,755 1097,762.5 1087,755" fill="#f5e467" stroke="#f5e467" stroke-width=".7"/>
<polygon points="1019.5,755 1037,752.5 1039.5,775 1022,775" fill="#f5e467" stroke="#f5e467" stroke-width=".7"/>
<polygon points="1052,745 1062,742.5 1067,755 1062,761.2 1052,760" fill="#f5e467" stroke="#f5e467" stroke-width=".7"/>
<polygon points="1039.5,740 1049.5,737.5 1054.5,747.5 1047,757.5 1038.2,758.8" fill="#d8863b" stroke="#d8863b" stroke-width=".7"/>
<polygon points="1099.5,715 1117,717.5 1119.5,737.5 1124,747.5 1124,775 1114.5,775 1109.5,755 1107,730" fill="#d6f7d4" stroke="#d6f7d4" stroke-width=".7"/>
<polygon points="1109.5,660 1119.5,652.5 1124,655 1124,672.5 1114.5,675" fill="#f5e467" stroke="#f5e467" stroke-width=".7"/>
<polygon points="1117,715 1124,715 1124,730 1119.5,727.5" fill="#a2b8d9" stroke="#a2b8d9" stroke-width=".7"/>
<polygon points="1252.8,527.5 1299,527.5 1279,542.5 1262.8,562.5 1252.8,545" fill="#8c8c8c" stroke="#8c8c8c" stroke-width=".7"/>
<polygon points="1131.5,553.8 1149,545 1164,552.5 1179,560 1189,560 1199,580 1209,587.5 1221.5,587.5 1231.5,576.2 1237.8,576.2 1244,567.5 1254,565 1269,562.5 1254,572.5 1241.5,580 1236.5,590 1229,605 1224,617.5 1219,620 1204,607.5 1189,597.5 1186.5,587.5 1159,572.5 1131.5,557.5" fill="#f5e467" stroke="#f5e467" stroke-width=".7"/>
<polygon points="1179,527.5 1252.8,527.5 1252.8,545 1262.8,562.5 1254,565 1244,567.5 1237.8,576.2 1231.5,576.2 1221.5,587.5 1209,587.5 1199,580 1189,560 1194,542.5 1186.5,535" fill="#d8863b" stroke="#d8863b" stroke-width=".7"/>
<polygon points="1169,527.5 1179,527.5 1186.5,535 1194,542.5 1184,545 1171.5,540" fill="#f5e467" stroke="#f5e467" stroke-width=".7"/>
<polygon points="1155.2,580 1161.5,575 1176.5,586.2 1167.8,595 1169,602.5 1161.5,607.5 1154,597.5" fill="#d8863b" stroke="#d8863b" stroke-width=".7"/>
<polygon points="1185.2,598.8 1190.2,600 1199,610 1196.5,617.5 1186.5,616.2" fill="#d8863b" stroke="#d8863b" stroke-width=".7"/>
<polygon points="1210.2,617.5 1216.5,620 1214,627.5 1209,626.2" fill="#d8863b" stroke="#d8863b" stroke-width=".7"/>
<polygon points="1195.2,620 1206.5,617.5 1209,626.2 1206.5,630 1196.5,630" fill="#f5e467" stroke="#f5e467" stroke-width=".7"/>
<polygon points="1191.5,630 1204,630 1207.8,640 1201.5,645 1191.5,640" fill="#d8863b" stroke="#d8863b" stroke-width=".7"/>
<polygon points="1124,588.8 1134,587.5 1134,602.5 1124,607.5" fill="#f5e467" stroke="#f5e467" stroke-width=".7"/>
<polygon points="1124,657.5 1139,652.5 1149,655 1149,660 1134,667.5 1124,670" fill="#f5e467" stroke="#f5e467" stroke-width=".7"/>
<polygon points="1124,635 1139,632.5 1141.5,640 1124,642.5" fill="#f5e467" stroke="#f5e467" stroke-width=".7"/>
<polygon points="1224,747.5 1232.8,737.5 1240.2,732.5 1249,740 1246.5,755 1244,775 1199,775 1204,762.5 1206.5,750" fill="#d8863b" stroke="#d8863b" stroke-width=".7"/>
<polygon points="1156.5,757.5 1170.2,755 1171.5,762.5 1165.2,775 1155.2,775" fill="#d6f7d4" stroke="#d6f7d4" stroke-width=".7"/>
<polygon points="1177.8,775 1186.5,770 1199,766.2 1199,775" fill="#f5e467" stroke="#f5e467" stroke-width=".7"/>
<polygon points="1124,720 1129,730 1135.2,752.5 1131.5,775 1124,775" fill="#a2b8d9" stroke="#a2b8d9" stroke-width=".7"/>
<polygon points="704.5,808.5 708.2,793.5 742,799.8 739.5,811 727,813.5 724.5,823.5 737,816 742,831 739.5,828.5 734.5,834.8 724.5,831 712,824.8 694.5,836 699.5,823.5" fill="#d8863b" stroke="#d8863b" stroke-width=".7"/>
<polygon points="762,811 772,803.5 777,808.5 779.5,823.5 792,828.5 800.8,838.5 799.5,853.5 798.2,868.5 762,868.5 759.5,858.5 764.5,853.5 765.8,843.5 759.5,836 767,828.5 765.8,818.5" fill="#d8863b" stroke="#d8863b" stroke-width=".7"/>
<polygon points="708.2,796 717,792.2 727,798.5 724.5,806 712,811 707,803.5" fill="#bb3031" stroke="#bb3031" stroke-width=".7"/>
<polygon points="749.5,803.5 759.5,801 762,808.5 755.8,814.8 750.8,811" fill="#bb3031" stroke="#bb3031" stroke-width=".7"/>
<polygon points="693.2,836 712,824.8 724.5,831 734.5,834.8 739.5,828.5 752,834.8 752,841 762,846 765.8,843.5 764.5,853.5 759.5,858.5 762,868.5 747,868.5 729.5,866 717,861 693.2,864.8" fill="#bb3031" stroke="#bb3031" stroke-width=".7"/>
<polygon points="692,864.8 717,861 729.5,866 747,868.5 819.5,869.2 829.5,877.2 867,879.8 869.5,886 869.5,958.5 734.5,958.5 729.5,943.5 719.5,926 712,911 702,896 695.8,881" fill="#d8863b" stroke="#d8863b" stroke-width=".7"/>
<polygon points="787,911 799.5,904.8 809.5,908.5 819.5,896 835.8,896 837,903.5 869.5,904.8 869.5,928.5 837,927.2 819.5,933.5 817,958.5 784.5,958.5 787,933.5 784.5,921" fill="#f5e467" stroke="#f5e467" stroke-width=".7"/>
<polygon points="867,879.8 869.5,886 912,879.8 919.5,889.8 934.5,879.8 944.5,883.5 949.5,878.5 937,871 912,873.5" fill="#d8863b" stroke="#d8863b" stroke-width=".7"/>
<polygon points="869.5,886 912,879.8 919.5,889.8 934.5,879.8 944.5,883.5 952,878.5 962,896 969.5,911 987,923.5 997,941 1004.5,958.5 869.5,958.5" fill="#e9e9e9" stroke="#e9e9e9" stroke-width=".7"/>
<polygon points="962,733.5 1012,733.5 1017,761 1034.5,766 1037,788.5 1057,788.5 1074.5,793.5 1072,808.5 1047,818.5 1047,833.5 1022,836 1012,846 994.5,853.5 979.5,881 969.5,878.5 952,878.5 934.5,871 932,863.5 937,856 949.5,858.5 944.5,851 952,843.5 954.5,818.5 962,811 957,793.5 949.5,786 972,776 982,761 969.5,753.5" fill="#f5e467" stroke="#f5e467" stroke-width=".7"/>
<polygon points="889.5,781 907,783.5 902,788.5 889.5,789.8" fill="#d8863b" stroke="#d8863b" stroke-width=".7"/>
<polygon points="889.5,796 904.5,801 919.5,804.8 934.5,799.8 939.5,804.8 932,811 922,813.5 924.5,821 912,826 907,836 912,846 919.5,853.5 929.5,848.5 934.5,836 942,833.5 952,843.5 944.5,851 949.5,858.5 937,856 932,863.5 934.5,871 912,873.5 904.5,856 894.5,846 889,843.5" fill="#d8863b" stroke="#d8863b" stroke-width=".7"/>
<polygon points="889.5,789.8 902,788.5 907,783.5 919.5,784.8 920.8,798.5 904.5,801 889.5,796" fill="#f5e467" stroke="#f5e467" stroke-width=".7"/>
<polygon points="912,836 924.5,833.5 934.5,828.5 934.5,836 929.5,848.5 919.5,853.5 912,846" fill="#f5e467" stroke="#f5e467" stroke-width=".7"/>
<polygon points="992,768.5 1009.5,771 1012,781 997,783.5" fill="#fcfcfc" stroke="#fcfcfc" stroke-width=".7"/>
<polygon points="1007,808.5 1017,806 1022,818.5 1012,823.5" fill="#fcfcfc" stroke="#fcfcfc" stroke-width=".7"/>
<polygon points="994.5,823.5 1002,826 999.5,836 992,831" fill="#fcfcfc" stroke="#fcfcfc" stroke-width=".7"/>
<polygon points="1022,821 1042,814.8 1047,821 1047,833.5 1032,834.8 1019.5,828.5" fill="#d8863b" stroke="#d8863b" stroke-width=".7"/>
<polygon points="894.5,733.5 962,733.5 959.5,751 934.5,748.5 932,741 894.5,746" fill="#d8863b" stroke="#d8863b" stroke-width=".7"/>
<polygon points="1039.5,741 1052,737.2 1055.8,748.5 1047,758.5 1038.2,757.2" fill="#d8863b" stroke="#d8863b" stroke-width=".7"/>
<polygon points="1022,751 1037,743.5 1039.5,758.5 1052,759.8 1062,743.5 1069.5,751 1062,763.5 1042,768.5 1024.5,763.5" fill="#f5e467" stroke="#f5e467" stroke-width=".7"/>
<polygon points="1042,776 1052,773.5 1069.5,786 1074.5,793.5 1057,788.5" fill="#f5e467" stroke="#f5e467" stroke-width=".7"/>
<polygon points="1107,733.5 1124,733.5 1124,761 1119.5,763.5 1105.8,758.5" fill="#d6f7d4" stroke="#d6f7d4" stroke-width=".7"/>
<polygon points="1097,768.5 1124,761 1124,811 1109.5,808.5 1102,798.5 1094.5,793.5" fill="#f5e467" stroke="#f5e467" stroke-width=".7"/>
<polygon points="1084.5,748.5 1104.5,758.5 1102,768.5 1087,766" fill="#f5e467" stroke="#f5e467" stroke-width=".7"/>
<polygon points="952,878.5 969.5,878.5 979.5,881 994.5,853.5 1012,846 1022,836 1047,833.5 1052,838.5 1087,848.5 1097,856 1099.5,871 1094.5,896 1099.5,911 1097,926 1087,941 1084.5,958.5 1004.5,958.5 997,941 987,923.5 969.5,911 962,896" fill="#d8863b" stroke="#d8863b" stroke-width=".7"/>
<polygon points="1007,858.5 1022,849.8 1025.8,853.5 1017,866 1008.2,867.2" fill="#bb3031" stroke="#bb3031" stroke-width=".7"/>
<polygon points="1037,943.5 1052,938.5 1069.5,947.2 1064.5,958.5 1042,958.5" fill="#bb3031" stroke="#bb3031" stroke-width=".7"/>
<polygon points="982,881 994.5,863.5 1012,852.2 1024.5,849.8 1022,854.8 1007,859.8 997,871 987,882.2" fill="#a2b8d9" stroke="#a2b8d9" stroke-width=".7"/>
<polygon points="1052,833.5 1074.5,832.2 1092,831 1089.5,834.8 1069.5,836 1059.5,839.8" fill="#a2b8d9" stroke="#a2b8d9" stroke-width=".7"/>
<polygon points="962,933.5 967,932.2 969.5,943.5 963.2,943.5" fill="#a2b8d9" stroke="#a2b8d9" stroke-width=".7"/>
<polygon points="1094.5,851 1099.5,841 1109.5,846 1107,861 1098.2,866" fill="#f5e467" stroke="#f5e467" stroke-width=".7"/>
<polygon points="1094.5,896 1102,896 1124,901 1124,936 1109.5,933.5 1099.5,926 1099.5,911" fill="#f5e467" stroke="#f5e467" stroke-width=".7"/>
<polygon points="1206.5,751 1224,746 1234,738.5 1244,733.5 1249,751 1249,783.5 1231.5,786 1221.5,784.8 1219,776 1199,782.2 1196.5,776 1201.5,763.5" fill="#d8863b" stroke="#d8863b" stroke-width=".7"/>
<polygon points="1171.5,781 1181.5,773.5 1196.5,771 1199,782.2 1219,776 1221.5,787.2 1241.5,786 1241.5,791 1224,794.8 1206.5,802.2 1199,793.5 1186.5,796 1174,793.5" fill="#f5e467" stroke="#f5e467" stroke-width=".7"/>
<polygon points="1219,823.5 1229,821 1234,811 1240.2,811 1240.2,831 1234,836 1221.5,832.2" fill="#f5e467" stroke="#f5e467" stroke-width=".7"/>
<polygon points="1181.5,828.5 1189,824.8 1195.2,834.8 1191.5,843.5 1182.8,841" fill="#f5e467" stroke="#f5e467" stroke-width=".7"/>
<polygon points="1194,853.5 1206.5,844.8 1214,847.2 1215.2,858.5 1199,864.8 1195.2,861" fill="#f5e467" stroke="#f5e467" stroke-width=".7"/>
<polygon points="1181.5,846 1190.2,843.5 1192.8,851 1186.5,853.5" fill="#f5e467" stroke="#f5e467" stroke-width=".7"/>
<polygon points="1154,856 1160.2,853.5 1165.2,866 1161.5,872.2 1155.2,868.5" fill="#f5e467" stroke="#f5e467" stroke-width=".7"/>
<polygon points="1177.8,863.5 1189,862.2 1186.5,868.5 1177.8,869.8" fill="#f5e467" stroke="#f5e467" stroke-width=".7"/>
<polygon points="1156.5,761 1171.5,756 1174,771 1166.5,776 1155.2,771" fill="#d6f7d4" stroke="#d6f7d4" stroke-width=".7"/>
<polygon points="1141.5,796 1155.2,794.8 1149,802.2 1142.8,803.5" fill="#d6f7d4" stroke="#d6f7d4" stroke-width=".7"/>
<polygon points="1145.2,841 1159,839.8 1160.2,851 1149,852.2" fill="#d6f7d4" stroke="#d6f7d4" stroke-width=".7"/>
<polygon points="1124,793.5 1134,796 1141.5,806 1151.5,811 1155.2,822.2 1151.5,841 1144,846 1141.5,861 1134,848.5 1124,841" fill="#f5e467" stroke="#f5e467" stroke-width=".7"/>
<polygon points="1124,837.2 1134,838.5 1139,848.5 1142.8,858.5 1141.5,862.2 1134,851 1124,843.5" fill="#d8863b" stroke="#d8863b" stroke-width=".7"/>
<polygon points="1124,733.5 1131.5,733.5 1130.2,761 1127.8,778.5 1124,781" fill="#a2b8d9" stroke="#a2b8d9" stroke-width=".7"/>
<polygon points="1127.8,792.2 1135.2,794.8 1140.2,806 1134,806 1127.8,801" fill="#a2b8d9" stroke="#a2b8d9" stroke-width=".7"/>
<polygon points="1149,822.2 1152.8,823.5 1152,832.2 1149,831" fill="#a2b8d9" stroke="#a2b8d9" stroke-width=".7"/>
<polygon points="1124,898.5 1129,906 1131.5,926 1131.5,936 1124,933.5" fill="#f5e467" stroke="#f5e467" stroke-width=".7"/>
<polygon points="1124,943.5 1136.5,943.5 1139,958.5 1124,958.5" fill="#f5e467" stroke="#f5e467" stroke-width=".7"/>
<polygon points="380,190 630,190 630,310 380,310" fill="#f5e467"/>
<polygon points="380,268.3 386.1,278.1 389.8,291.5 404.5,290.3 416.7,287.8 414.2,297.6 416.7,310 380,310" fill="#d6f7d4" stroke="#d6f7d4" stroke-width=".7"/>
<polygon points="386.1,238.9 393.5,231.6 397.1,234 392.2,241.4 387.3,249.9 383.7,247.5" fill="#d6f7d4" stroke="#d6f7d4" stroke-width=".7"/>
<polygon points="619.7,294 630,291.5 630,310 619.7,310" fill="#d6f7d4" stroke="#d6f7d4" stroke-width=".7"/>
<polygon points="514.5,305 524.3,300.1 537.8,306.2 537.8,310 513.3,310" fill="#d6f7d4" stroke="#d6f7d4" stroke-width=".7"/>
<polygon points="438.7,197.3 443.6,194.9 468.1,196.1 473,190 550,190 550,202.2 546.3,209.6 556.1,210.2 568.4,215.7 570.8,220.6 565.9,226.7 570.8,232.8 575.7,241.4 570.8,247.5 562.2,248.7 561,258.5 554.9,259.7 556.1,265.8 547.6,273.2 539,269.5 531.7,274.4 520.7,264.6 506,263.4 501.1,258.5 497.4,265.8 502.3,273.2 504.8,286.6 513.3,287.8 520.7,291.5 514.5,297.6 512.1,310 482.7,310 465.6,296.4 469.3,287.8 460.7,275.6 446,278.1 408.1,274.4 403.2,276.8 404.5,290.3 389.8,291.5 386.1,278.1 393.5,273.2 391,260.9 398.3,242.6 402,230.4 410.6,225.5 409.4,209.6 420.4,205.9 438.7,202.2" fill="#d8863b" stroke="#d8863b" stroke-width=".7"/>
<polygon points="380,253.6 383.7,256 387.3,262.2 384.9,267.1 380,264.6" fill="#d8863b" stroke="#d8863b" stroke-width=".7"/>
<polygon points="419.1,258.5 424,256 431.4,258.5 432.6,252.4 448.5,246.3 455.8,240.1 465.6,241.4 471.7,242.6 473,251.2 476.6,259.7 482.7,265.8 490.1,273.2 487.6,278.1 482.7,280.5 473,273.2 468.1,268.3 458.3,263.4 453.4,260.9 446,264.6 435,263.4 433.8,268.3 428.9,268.3 425.3,262.2" fill="#bb3031" stroke="#bb3031" stroke-width=".7"/>
<polygon points="498,236.5 502.3,236.5 503.5,241.4 513.3,243.8 514.5,247.5 521.9,246.9 521.3,257.3 517,258.5 514.5,253.6 504.8,252.4 499.3,247.5" fill="#bb3031" stroke="#bb3031" stroke-width=".7"/>
<polygon points="524.3,242.6 528,236.5 536.6,232.8 542.7,227.9 546.3,238.9 549.4,251.2 542.7,252.4 539,249.9 535.3,252.4 532.9,245" fill="#bb3031" stroke="#bb3031" stroke-width=".7"/>
<polygon points="578.1,251.2 587.9,247.5 592.8,251.2 595.3,238.9 598.9,232.8 608.7,234 612.4,245 616.1,251.2 609.9,254.8 608.7,264.6 592.8,263.4 591.6,256 579.4,256.7" fill="#d8863b" stroke="#d8863b" stroke-width=".7"/>
<polygon points="568.4,268.3 575.7,264.6 587.9,265.8 597.7,273.2 606.3,278.1 603.8,287.8 600.2,294 592.8,290.3 578.1,291.5 576.9,295.2 563.5,294 561,303.7 554.9,306.2 557.3,294 561,285.4 565.9,275.6" fill="#d8863b" stroke="#d8863b" stroke-width=".7"/>
<polygon points="601.4,305 606.3,296.4 614.8,294 618.5,300.1 617.3,310 601.4,310" fill="#d8863b" stroke="#d8863b" stroke-width=".7"/>
<polygon points="609.9,197.3 616.1,190 630,190 630,205.9 619.7,203.5 612.4,203.5" fill="#d8863b" stroke="#d8863b" stroke-width=".7"/>
<polygon points="565.9,241.4 570.8,240.8 571.4,245.7 566.5,246.3" fill="#f5e467" stroke="#f5e467" stroke-width=".7"/>
<polygon points="520,225 776,225 776,348 520,348" fill="#f5e467"/>
<polygon points="520,225 543.8,225 540.1,230 527.5,236.3 520,235" fill="#d8863b" stroke="#d8863b" stroke-width=".7"/>
<polygon points="520,235 527.5,236.3 525,243.8 535,251.3 550.1,248.8 551.3,253.8 561.4,258.8 555.1,263.9 545.1,271.4 536.3,273.9 520,267.6" fill="#d8863b" stroke="#d8863b" stroke-width=".7"/>
<polygon points="547,230 563.9,232.5 575.2,238.8 573.9,246.3 562.6,251.3 560.1,257.6 551.3,253.8 550.1,248.8 547,237.5" fill="#d8863b" stroke="#d8863b" stroke-width=".7"/>
<polygon points="527.5,236.3 540.1,230 543.8,227.5 547,237.5 550.1,248.8 542.6,252.6 535,251.3 525,243.8" fill="#bb3031" stroke="#bb3031" stroke-width=".7"/>
<polygon points="520,245.1 521.9,246.3 521.3,257.6 520,258.8" fill="#bb3031" stroke="#bb3031" stroke-width=".7"/>
<polygon points="595.2,235 600.2,233.1 609,235 610.3,243.8 615.3,251.3 606.5,253.8 607.8,263.9 600.2,265.1 591.5,262.6 595.2,253.8 594,245.1" fill="#d8863b" stroke="#d8863b" stroke-width=".7"/>
<polygon points="577.7,251.3 587.7,248.2 591.5,250.1 590.2,256.3 578.9,256.3" fill="#d8863b" stroke="#d8863b" stroke-width=".7"/>
<polygon points="641.6,255.1 649.1,248.8 652.9,242.6 664.2,247.6 683,257.6 693,255.1 699.3,251.3 699.3,225 776,225 776,287.7 769.5,288.9 758.2,285.2 753.2,292.7 756.9,302.7 755.7,317.8 745.6,320.3 733.1,325.3 733.1,331.6 725.6,334.1 713.1,330.3 695.5,326.5 689.2,320.3 678,311.5 681.7,302.7 679.2,299 683,287.7 680.5,281.4 670.4,277.7 657.9,280.2 655.4,273.9 650.4,266.4 646.6,260.1" fill="#d8863b" stroke="#d8863b" stroke-width=".7"/>
<polygon points="706.8,280.2 715.6,272.6 725.6,267.6 730.6,268.2 731.9,272.6 723.1,275.1 716.8,283.9 714.3,291.4 708,288.9" fill="#bb3031" stroke="#bb3031" stroke-width=".7"/>
<polygon points="741.9,277.7 746.9,275.1 750.7,278.9 745.6,285.2 741.9,282.7" fill="#a2b8d9" stroke="#a2b8d9" stroke-width=".7"/>
<polygon points="764.5,266.4 770.7,265.1 773.2,275.1 767,277.7" fill="#f5e467" stroke="#f5e467" stroke-width=".7"/>
<polygon points="763.2,297.7 770.7,292.7 776,293.9 776,322.8 770.7,324 764.5,312.8" fill="#d6f7d4" stroke="#d6f7d4" stroke-width=".7"/>
<polygon points="567.6,267.6 573.9,265.1 590.2,266.4 600.2,277.7 606.5,275.1 606.5,278.9 601.5,281.4 602.7,292.7 600.2,295.2 590.2,285.2 578.9,283.9 577.7,293.9 563.9,293.9 562.6,305.2 555.1,306.5 556.4,297.7 561.4,290.2 562.6,280.2" fill="#d8863b" stroke="#d8863b" stroke-width=".7"/>
<polygon points="600.2,305.2 606.5,297.7 612.8,299 614,293.3 619,296.5 619,305.2 615.3,311.5 614,320.3 620.3,325.3 626.6,326.5 629.1,331.6 620.3,332.8 607.8,331.6 595.2,329 586.4,330.3 587.7,322.8 597.7,317.8 601.5,312.8" fill="#d8863b" stroke="#d8863b" stroke-width=".7"/>
<polygon points="620.3,295.2 626.6,290.2 635.3,290.2 644.1,297.7 645.4,307.7 637.8,315.3 630.3,317.8 622.8,312.8 616.5,311.5 619,305.2" fill="#d6f7d4" stroke="#d6f7d4" stroke-width=".7"/>
<polygon points="629.1,297.7 635.3,296.5 637.8,302.7 631.6,306.5" fill="#f5e467" stroke="#f5e467" stroke-width=".7"/>
<polygon points="655.4,285.2 662.9,281.4 670.4,283.9 672.9,292.7 667.9,300.2 657.9,300.2 652.9,292.7" fill="#d6f7d4" stroke="#d6f7d4" stroke-width=".7"/>
<polygon points="636.6,325.3 645.4,321.5 656.6,322.8 667.9,325.3 676.7,334.1 689.2,329 691.7,337.8 683,348 661.7,348 660.4,337.8 645.4,335.3 637.8,331.6" fill="#d6f7d4" stroke="#d6f7d4" stroke-width=".7"/>
<polygon points="520,307.7 531.3,306.5 536.3,312.8 540.1,321.5 542.6,329 537.6,334.1 520,325.3" fill="#d6f7d4" stroke="#d6f7d4" stroke-width=".7"/>
<polygon points="531.3,348 536.3,340.3 542.6,336.6 548.8,342.8 551.3,348" fill="#fcfcfc" stroke="#fcfcfc" stroke-width=".7"/>
<polygon points="698,337.8 701.8,336.6 715.6,337.8 718.1,345.3 713.1,348 700.5,348" fill="#d8863b" stroke="#d8863b" stroke-width=".7"/>
<polygon points="728.1,324 735.6,320.3 738.1,327.8 735.6,334.1 729.4,334.1" fill="#d8863b" stroke="#d8863b" stroke-width=".7"/>
<polygon points="738.1,342.8 744.4,339.1 753.2,341.6 751.9,348 738.1,348" fill="#d6f7d4" stroke="#d6f7d4" stroke-width=".7"/>
<polygon points="553.8,327.8 558.9,321.5 560.1,325.3 557.6,335.3 555.7,341.6 553.8,336.6" fill="#a2b8d9" stroke="#a2b8d9" stroke-width=".7"/>
<polygon points="520,380 624,380 627.8,392.5 630.3,402.6 637.8,407.6 632.8,442.7 585.2,448.3 575.2,438.9 570.1,427.6 561.4,416.4 553.8,409.5 520,408.8" fill="#fcfcfc" stroke="#fcfcfc" stroke-width=".7"/>
<polygon points="700.5,380 733.1,380 745.6,387.5 749.4,396.3 758.2,393.8 755.7,402.6 746.9,415.1 725.6,415.7 708,413.8 685.5,415.1 681.7,410.1 683,406.3 691.7,402.6 694.3,392.5" fill="#f5e467" stroke="#f5e467" stroke-width=".7"/>
<polygon points="624,380 700.5,380 694.3,392.5 691.7,402.6 683,406.3 670.4,396.3 657.9,400.1 652.9,408.8 637.8,407.6 630.3,402.6 627.8,392.5" fill="#d6f7d4" stroke="#d6f7d4" stroke-width=".7"/>
<polygon points="580.2,391.3 585.2,386.3 595.2,391.3 596.5,400.1 594,406.3 586.4,407.6 581.4,401.3" fill="#f5e467" stroke="#f5e467" stroke-width=".7"/>
<polygon points="566.4,403.8 570.1,400.1 580.2,401.3 586.4,407.6 587.7,416.4 582.7,420.1 576.4,415.1 568.9,416.4 565.1,410.1" fill="#d6f7d4" stroke="#d6f7d4" stroke-width=".7"/>
<polygon points="602.7,401.3 610.3,396.3 619,387.5 624,381.3 627.8,392.5 630.3,401.3 625.3,403.8 615.3,412.6 616.5,420.1 611.5,427.6 610.3,437.7 606.5,437.7 609,427.6 607.8,417.6 605.2,408.8" fill="#f5e467" stroke="#f5e467" stroke-width=".7"/>
<polygon points="620.3,421.4 626.6,416.4 637.8,407.6 645.4,408.8 639.1,417.6 636.6,427.6 632.8,438.9 629.1,440.2 624,433.9 620.3,427.6" fill="#f5e467" stroke="#f5e467" stroke-width=".7"/>
<polygon points="650.4,455.2 656.6,452.7 669.2,447.7 667.9,442.7 656.6,432.7 659.2,425.1 671.7,418.9 685.5,415.1 708,413.8 725.6,415.7 746.9,415.1 751.9,430.1 754.4,442.7 758.2,455.2 765.7,467.8 776,477.8 776,490.3 720.6,487.8 713.1,490.3 657.9,490.3 659.2,477.8 657.9,467.8" fill="#d6f7d4" stroke="#d6f7d4" stroke-width=".7"/>
<polygon points="637.8,417.6 652.9,408.8 655.4,421.4 665.4,421.4 670.4,417.6 671.7,418.9 659.2,425.1 656.6,432.7 667.9,442.7 669.2,447.7 656.6,452.7 650.4,455.2 640.3,450.2 645.4,442.7 646.6,430.1 639.1,427.6" fill="#f5e467" stroke="#f5e467" stroke-width=".7"/>
<polygon points="652.9,408.8 657.9,400.1 670.4,396.3 683,406.3 681.7,410.1 685.5,415.1 671.7,418.9 670.4,417.6 665.4,421.4 655.4,421.4" fill="#f5e467" stroke="#f5e467" stroke-width=".7"/>
<polygon points="655.4,403.8 661.7,397.6 670.4,396.3 675.4,400.1 681.7,405.1 682.3,410.1 676.7,415.1 669.2,412.6 667.9,405.1 665.4,410.1 666.7,415.1 665.4,420.1 657.9,421.4 652.9,416.4 656.6,411.3" fill="#d8863b" stroke="#d8863b" stroke-width=".7"/>
<polygon points="632.8,442.7 636.6,430.1 640.3,427.6 646,430.1 645.4,438.9 641.6,447.7 636.6,443.9" fill="#d8863b" stroke="#d8863b" stroke-width=".7"/>
<polygon points="758.2,393.8 765.7,387.5 776,387.5 776,421.4 769.5,410.1 761.9,408.8 758.2,402.6" fill="#bb3031" stroke="#bb3031" stroke-width=".7"/>
<polygon points="755.7,402.6 758.2,402.6 761.9,408.8 769.5,410.1 776,421.4 776,472.8 765.7,467.8 758.2,455.2 754.4,442.7 751.9,430.1 746.9,415.1" fill="#d8863b" stroke="#d8863b" stroke-width=".7"/>
<polygon points="733.1,380 765.7,380 765.7,387.5 758.2,393.8 749.4,396.3 745.6,387.5" fill="#d6f7d4" stroke="#d6f7d4" stroke-width=".7"/>
<polygon points="657.9,490.3 713.1,490.3 720.6,487.8 776,490.3 776,503 651.6,503" fill="#e9e9e9" stroke="#e9e9e9" stroke-width=".7"/>
<polygon points="670.4,480.3 675.4,478.4 685.5,480.3 683,484 671.7,484" fill="#f5e467" stroke="#f5e467" stroke-width=".7"/>
<polygon points="1000,680 1256,680 1256,803 1000,803" fill="#fcfcfc"/>
<polygon points="1000,680 1052.7,680 1052,689.4 1025.1,693.8 1018.8,696.3 1013.8,703.8 1016.3,715.1 1016.3,732.7 1011.3,745.2 1000,747.7" fill="#d8863b" stroke="#d8863b" stroke-width=".7"/>
<polygon points="1010,706.3 1018.8,695 1025.1,696.3 1016.3,711.3 1011.3,713.8" fill="#a2b8d9" stroke="#a2b8d9" stroke-width=".7"/>
<polygon points="1031.3,702.6 1036.4,693.8 1043.9,693.8 1037.6,700.1 1033.8,703.8" fill="#a2b8d9" stroke="#a2b8d9" stroke-width=".7"/>
<polygon points="1047.6,680 1055.2,680 1064.6,696.3 1062.7,700.1 1055.2,693.8 1051.4,690" fill="#a2b8d9" stroke="#a2b8d9" stroke-width=".7"/>
<polygon points="1075.2,680 1086.5,680 1097.8,692.5 1095.3,694.4 1085.2,687.5 1080.2,688.8" fill="#a2b8d9" stroke="#a2b8d9" stroke-width=".7"/>
<polygon points="1036.4,702.6 1042.6,695 1050.1,693.8 1047.6,701.3 1051.4,708.8 1041.4,707.6" fill="#f5e467" stroke="#f5e467" stroke-width=".7"/>
<polygon points="1016.3,710.1 1023.8,706.3 1027.6,708.8 1021.3,717.6 1017.6,716.4" fill="#f5e467" stroke="#f5e467" stroke-width=".7"/>
<polygon points="1063.9,702.6 1067.7,697.6 1075.2,703.8 1070.2,710.1 1065.2,708.8" fill="#f5e467" stroke="#f5e467" stroke-width=".7"/>
<polygon points="1063.9,716.4 1070.2,713.8 1082.7,712 1086.5,717.6 1080.2,728.9 1072.7,733.9 1066.4,722.6" fill="#f5e467" stroke="#f5e467" stroke-width=".7"/>
<polygon points="1020.1,755.2 1025.1,751.5 1032.6,755.2 1037.6,750.2 1037.6,767.8 1025.1,770.3 1021.3,765.2" fill="#f5e467" stroke="#f5e467" stroke-width=".7"/>
<polygon points="1050.1,747.7 1060.2,742.1 1067.7,746.4 1065.2,762.7 1060.2,765.2 1050.1,757.7" fill="#f5e467" stroke="#f5e467" stroke-width=".7"/>
<polygon points="1000,747.7 1011.3,745.2 1012.5,756.5 1023.8,770.3 1037.6,767.8 1037.6,790.3 1031.3,786.6 1016.3,779 1012.5,784 1021.3,803 1000,803" fill="#f5e467" stroke="#f5e467" stroke-width=".7"/>
<polygon points="1041.4,777.8 1045.1,772.8 1052.7,787.8 1060.2,796.6 1070.2,790.3 1076.5,797.8 1075.2,803 1041.4,803" fill="#f5e467" stroke="#f5e467" stroke-width=".7"/>
<polygon points="1038.9,740.2 1043.2,737 1055.2,742.7 1052.7,750.2 1048.9,756.5 1038.9,759.6 1038.2,750.2" fill="#d8863b" stroke="#d8863b" stroke-width=".7"/>
<polygon points="1033.8,750.2 1037.6,740.2 1042,739.5 1042.6,745.2 1037.6,751.5" fill="#a2b8d9" stroke="#a2b8d9" stroke-width=".7"/>
<polygon points="1089,721.4 1097.8,717 1104,718.9 1106.6,726.4 1111.6,732.7 1107.8,738.9 1105.3,742.7 1106.6,747.7 1104,754 1104,767.8 1109.1,770.3 1106.6,773.4 1100.3,774 1097.8,766.5 1086.5,767.8 1085.2,750.2 1086.5,736.4 1090.3,730.1" fill="#f5e467" stroke="#f5e467" stroke-width=".7"/>
<polygon points="1099,713.2 1110.3,716.4 1115.3,716.4 1117.8,723.9 1120.3,733.9 1122.9,750.2 1119.1,761.5 1117.8,766.5 1114.1,756.5 1119.1,750.2 1117.8,743.9 1107.8,745.2 1105.3,740.2 1111.6,733.9 1106.6,726.4 1104,718.9" fill="#d6f7d4" stroke="#d6f7d4" stroke-width=".7"/>
<polygon points="1106.6,745.2 1117.8,743.3 1119.1,750.2 1114.1,756.5 1117.8,766.5 1120.3,775.3 1125.4,790.3 1129.1,803 1097.8,803 1094,794.1 1099,789.1 1106.6,789.1 1109.1,770.3 1104,767.8 1104,754" fill="#f5e467" stroke="#f5e467" stroke-width=".7"/>
<polygon points="1109.1,717.6 1115.3,717 1122.2,732.7 1120.3,733.9 1117.8,723.9" fill="#f5e467" stroke="#f5e467" stroke-width=".7"/>
<polygon points="1081.5,779 1086.5,767.8 1097.8,766.5 1100.3,774 1096.5,779" fill="#f5e467" stroke="#f5e467" stroke-width=".7"/>
<polygon points="1116.6,716.4 1119.1,713.8 1125.4,720.1 1129.1,727.6 1130.4,738.9 1135.4,750.2 1136.6,757.7 1132.9,767.8 1134.1,777.8 1139.2,792.8 1142.9,803 1129.1,803 1125.4,790.3 1120.3,775.3 1119.1,761.5 1122.9,750.2 1120.3,733.9 1117.8,723.9" fill="#a2b8d9" stroke="#a2b8d9" stroke-width=".7"/>
<polygon points="1155.4,766.5 1161.7,757.7 1174.3,755.2 1168,762.7 1169.2,769 1174.3,774 1164.2,775.9 1155.4,771.5" fill="#d6f7d4" stroke="#d6f7d4" stroke-width=".7"/>
<polygon points="1141.7,797.8 1149.2,793.5 1156.7,796.6 1154.2,803 1144.2,803" fill="#d6f7d4" stroke="#d6f7d4" stroke-width=".7"/>
<polygon points="1170.5,780.3 1180.5,772.8 1195.6,766.5 1199.3,767.8 1196.8,782.8 1205.6,780.3 1209.4,785.3 1218.1,787.8 1235.7,786.6 1243.2,784 1243.2,803 1205.6,803 1195.6,792.8 1190.5,797.8 1181.8,791.6 1173,790.3" fill="#f5e467" stroke="#f5e467" stroke-width=".7"/>
<polygon points="1204.3,755.2 1206.8,750.2 1223.1,745.2 1225.6,742.1 1240.7,733.3 1245.7,735.2 1245.7,780.3 1238.2,786.6 1221.9,785.3 1219.4,779 1213.1,783.4 1196.8,781.5 1200.6,762.7 1205.6,760.2" fill="#d8863b" stroke="#d8863b" stroke-width=".7"/>
<polygon points="1060,352.5 1180,352.5 1180,474.9 1060,474.9" fill="#fcfcfc"/>
<polygon points="1060,352.5 1121.6,352.5 1121.6,364.9 1113,369.5 1103.7,369.5 1102.4,375.5 1099.7,380.1 1109,383.4 1115.6,387.4 1122.3,395.3 1131.5,402 1138.1,408.6 1139.5,419.2 1142.8,425.8 1134.2,435.1 1126.2,443 1117,449.6 1115.6,447 1109,439 1102.4,431.1 1105,419.8 1082.5,419.8 1081.9,427.1 1074.6,432.4 1067.9,427.1 1060,429.8" fill="#bb3031" stroke="#bb3031" stroke-width=".7"/>
<polygon points="1103.7,394 1110.3,386.1 1117,388.7 1126.2,402 1115.6,400.6 1110.3,398" fill="#d8863b" stroke="#d8863b" stroke-width=".7"/>
<polygon points="1082.5,419.8 1105,419.8 1102.4,431.1 1109,439 1115.6,447 1117,449.6 1110.3,457.6 1099.7,458.2 1091.8,460.2 1082.5,463.5 1073.2,458.9 1060,461.6 1060,429.8 1067.9,427.1 1074.6,432.4 1081.9,427.1" fill="#d8863b" stroke="#d8863b" stroke-width=".7"/>
<polygon points="1060,411.2 1065.3,407.3 1069.9,411.2 1071.9,417.2 1061.3,417.8" fill="#d8863b" stroke="#d8863b" stroke-width=".7"/>
<polygon points="1142.8,425.8 1154,429.8 1154.7,443 1148.7,443 1148.1,435.1 1139.5,437.7 1126.2,443 1134.2,435.1" fill="#d8863b" stroke="#d8863b" stroke-width=".7"/>
<polygon points="1117,449.6 1126.2,443 1139.5,437.7 1148.1,435.1 1148.7,443 1154.7,443 1155.4,451 1154,460.2 1158,474.9 1110.3,474.9 1113,464.2 1110.3,457.6" fill="#d8863b" stroke="#d8863b" stroke-width=".7"/>
<polygon points="1154.7,445.7 1160.7,447 1162.6,458.9 1166,474.9 1158,474.9 1154,460.2" fill="#a2b8d9" stroke="#a2b8d9" stroke-width=".7"/>
<polygon points="1160.7,447 1173.9,446.3 1180,451 1180,474.9 1166,474.9 1162.6,458.9" fill="#bb3031" stroke="#bb3031" stroke-width=".7"/>
<defs><path id="bag" d="M-1.450,-2.300h2.900l-.4,.9c1,.3 1.700,1.200 1.700,2.400c0,.9-.5,1.300-1.300,1.300h-2.900c-.8,0-1.300-.4-1.300-1.300c0-1.200 .7-2.100 1.700-2.400z"/></defs>
<polyline points="1223.1,745.2 1229.4,755.2 1220.6,762.7 1215.6,780.3" fill="none" stroke="#fff" stroke-width="1.2"/>
<polyline points="1206.8,760.2 1220.6,762.7 1241.9,760.2" fill="none" stroke="#fff" stroke-width="1.2"/>
<polygon points="1078.7,533.9 1090.5,528.1 1103.7,522.2 1113.9,525.1 1116.9,533.9 1125.7,535.4 1134.5,533.9 1128.6,541.3 1121.3,542.7 1122.7,551.6 1115.4,557.4 1113.9,564.8 1108.1,569.2 1113.9,575 1102.2,578 1096.3,585.3 1075.8,586.8 1075.8,566.2 1074.3,545.7" fill="#a2b8d9" stroke="#a2b8d9" stroke-width=".7"/>
<polygon points="0,47.5 175,47.5 175,52 166.2,65 160,82.5 153.8,93.8 148.8,102.5 145,113.8 143.8,122.5 150,126.2 153.8,137.5 157.5,150 160,162.5 162.5,175 163.8,187.5 161.2,195 156.2,205 150,215 143.8,227.5 137.5,245 0,245" fill="#a4b7d3" stroke="#a4b7d3" stroke-width=".7"/>
<polygon points="15,235 137.5,235 137.5,245 142.5,248.8 146,257.5 147.5,267.5 150,277.5 151.2,285 153.8,310 162.5,317.5 182.5,322.5 192.5,332.5 205,342.5 212.5,350 216.2,367.5 220,382.5 232.5,390 250,400 262.5,410 275,417.5 290,430 307.5,442.5 322.5,447.5 327.5,447 340,441.2 360,433.8 375,431.2 392.5,428.8 417.5,433.8 432.5,438.8 450,432.5 465,423.8 485,420 497.5,412.5 520,408.8 540,407.5 555,410 565,420 570,430 575,440 585,447.5 600,448.8 612,447.5 612,530 15,530" fill="#a4b7d3" stroke="#a4b7d3" stroke-width=".7"/>
<polygon points="609.5,445.5 624,444 632.8,442.8 640,450 650,455 658,467.8 659,477.8 656.5,486.5 654,496.5 651.5,503 648.2,517.5 644.5,530 609.5,530" fill="#a4b7d3" stroke="#a4b7d3" stroke-width=".7"/>
<polygon points="1376.5,260 1376.5,317.5 1389,316.2 1401.5,312.5 1414,312.5 1426.5,307.5 1436.5,301.2 1447.8,302.5 1446.5,317.5 1445.2,330 1439,350 1430.2,370 1421.5,382.5 1411.5,400 1399,420 1386.5,440 1374,457.5 1361.5,475 1344,490 1324,502.5 1306.5,515 1296.5,525 1291.5,530 1636,530 1636,260" fill="#a4b7d3" stroke="#a4b7d3" stroke-width=".7"/>
<polygon points="562,527.5 644.5,527.5 637,545 649.5,562.5 664.5,585 682,610 697,627.5 704.5,640 705.8,647.5 712,665 722,685 719.5,702.5 727,720 734.5,737.5 732,755 724.5,775 562,775" fill="#a4b7d3" stroke="#a4b7d3" stroke-width=".7"/>
<polygon points="1290.2,527.5 1279,542.5 1262.8,562.5 1254,572.5 1241.5,580 1236.5,590 1229,605 1221.5,620 1216.5,630 1211.5,645 1216.5,660 1222.8,670 1220.2,680 1221.5,695 1226.5,710 1231.5,725 1240.2,732.5 1244,740 1242.8,755 1241.5,775 1636,775 1636,527.5" fill="#a4b7d3" stroke="#a4b7d3" stroke-width=".7"/>
<polygon points="562,733.5 735.8,733.5 729.5,751 722,771 714.5,783.5 708.2,793.5 704.5,808.5 699.5,823.5 694.5,836 694,863.5 695.8,881 702,896 712,911 719.5,926 729.5,943.5 735.8,958.5 562,958.5" fill="#a4b7d3" stroke="#a4b7d3" stroke-width=".7"/>
<polygon points="1244,733.5 1245.2,751 1244,768.5 1245.2,783.5 1244,796 1247.8,811 1246.5,823.5 1241.5,836 1229,848.5 1219,858.5 1206.5,866 1196.5,871 1184,881 1169,896 1154,908.5 1141.5,918.5 1131.5,926 1131.5,936 1139,946 1141.5,958.5 1636,958.5 1636,733.5" fill="#a4b7d3" stroke="#a4b7d3" stroke-width=".7"/>
<polygon points="1220.6,678.7 1219.4,691.3 1223.1,701.3 1226.9,715.1 1230.7,725.1 1240.7,733.3 1243.8,735.2 1244.5,750.2 1242.6,761.5 1244.5,780.3 1243.2,804.1 1258.2,804.1 1258.2,678.7" fill="#a4b7d3" stroke="#a4b7d3" stroke-width=".7"/>
<polygon points="1489,288.8 1499,287 1507.8,289.5 1499,293.8 1491.5,292.5" fill="#d8863b" stroke="#d8863b" stroke-width=".7"/>
<polygon points="1404,775 1409,763.8 1414,770 1415.2,775" fill="#fcfcfc" stroke="#fcfcfc" stroke-width=".7"/>
<polygon points="1410.2,763.5 1416.5,771 1424,786 1427.8,806 1431.5,823.5 1431.5,833.5 1426.5,838.5 1422.8,831 1419,833.5 1420.2,846 1421.5,858.5 1417.8,866 1414,881 1409,898.5 1401.5,921 1396.5,936 1391.5,958.5 1299,958.5 1309,936 1319,921 1314,908.5 1310.2,886 1309,871 1317.8,858.5 1319,846 1334,841 1349,837.2 1364,829.8 1374,818.5 1384,801 1386.5,793.5 1396.5,791 1401.5,781 1404,771" fill="#fcfcfc" stroke="#fcfcfc" stroke-width=".7"/>
<polygon points="1524,941 1531.5,939.8 1536.5,946 1530.2,949.8 1524,947.2" fill="#fcfcfc" stroke="#fcfcfc" stroke-width=".7"/>
<polygon points="630.3,465.2 635.3,460.2 639.1,460.2 637.8,465.2 634.1,469 630.9,469" fill="#e4e4e4" stroke="#e4e4e4" stroke-width=".7"/>
<polygon points="1380.2,929.8 1389,927.2 1396.5,933.5 1391.5,958.5 1382.8,958.5" fill="#d8863b" stroke="#d8863b" stroke-width=".7"/>
<polyline points="1097,60 1100.8,72.5 1099.5,82.5 1087,87.5 1074.5,90 1069.5,97.5 1065.8,105.5" fill="none" stroke="#7f9fd6" stroke-width="3"/>
<polyline points="1389,182.5 1409,170 1461.5,162.5 1520.2,141.2 1530.2,107.5 1524,85 1472.8,80 1456.5,55" fill="none" stroke="#777" stroke-width="1"/>
<polyline points="1524,85 1526.5,72.5 1539,57.5" fill="none" stroke="#777" stroke-width="1"/>
<polyline points="1124,100 1172.8,100" fill="none" stroke="#666" stroke-width="1" stroke-dasharray="4 3"/>
<polyline points="442.5,360 455,370 462.5,380 467.5,395 470,407.5" fill="none" stroke="#7f9fd6" stroke-width="2.5"/>
<polyline points="472.5,370 467.5,385" fill="none" stroke="#7f9fd6" stroke-width="2"/>
<polyline points="813.3,524 808.3,538.1 802.5,549.8 789.3,563 779,573.2 776.1,582 773.9,593.7" fill="none" stroke="#7f9fd6" stroke-width="2.6"/>
<polyline points="912.3,500 921.1,508.8 932.8,516.1 943.1,519 954.8,529.3 962.1,548.3 963.6,558.6" fill="none" stroke="#7f9fd6" stroke-width="2.4"/>
<polyline points="813.4,524 814.9,512.1 822.2,503.3 836.9,497.4 861.8,493 886.8,489.3 898.5,491.6 905.9,496 913.2,503.3 923.5,512.1 935.2,518 945.5,520.9" fill="none" stroke="#7f9fd6" stroke-width="2.6"/>
<polyline points="823.7,447.5 831,438.7 839.8,434.3 848.6,435.8 857.4,441.6 863.3,447.5" fill="none" stroke="#7f9fd6" stroke-width="1.2"/>
<polyline points="863.3,447.5 886.8,449 898.5,451.9 905.9,440.2 916.1,441.6 935.2,435.8 955.8,429.9 969,431.4 986.6,432.8" fill="none" stroke="#9a8a7a" stroke-width="1"/>
<polyline points="922,345 944.5,343.8" fill="none" stroke="#555" stroke-width="1" stroke-dasharray="4 3"/>
<polyline points="1124,555 1159,572.5 1186.5,587.5 1189,597.5 1219,620" fill="none" stroke="#888" stroke-width="1"/>
<polyline points="889,843.5 889,781.5 927,781 928.2,741" fill="none" stroke="#888" stroke-width="1"/>
<polyline points="819.5,869.2 829.5,877.2 867,879.8 912,873.5 937,871 949.5,878.5" fill="none" stroke="#888" stroke-width="1"/>
<polyline points="536.3,273.9 551.3,266.4 573.9,264.5 590.2,267.6 602.7,280.2 619,274.5 640.3,282.7 655.4,283.9 667.9,275.1 684.2,274.5 705.5,278.9" fill="none" stroke="#8a8a7a" stroke-width="1"/>
<polyline points="1052.7,689.4 1067.7,696.3 1075.2,702.6 1099,713.2 1115.3,716.4" fill="none" stroke="#888" stroke-width="1"/>
<polyline points="1130.4,754.6 1136.6,754 1154.2,751.5 1160.5,756.5 1168,756.5 1174.3,754 1184.3,755.8 1193.1,747.7 1203.1,750.2 1225.6,742.1 1240.7,733.3" fill="none" stroke="#888" stroke-width="1"/>
<polyline points="1016.3,715.1 1012.5,755.2 1023.8,770.3 1037.6,767.8 1037.6,790.3" fill="none" stroke="#888" stroke-width="1"/>
<polyline points="1127.5,443 1147.4,443" fill="none" stroke="#555" stroke-width="1" stroke-dasharray="4 3"/>
<polyline points="1021,351.2 1012,351.2 1002,346.2 969.5,345 963.2,331.2 948.2,332.5 942,347.5 937,360 932,370 947,377.5 952,387.5 972,405 977,415 987,425 994.5,435 1012,447.5 1032,445 1042,452.5 1057,462.5 1077,460 1060,461.6 1073.2,458.9 1082.5,463.5 1091.8,460.2 1099.7,458.2 1110.3,457.6 1117,449.6 1126.2,443 1139.5,437.7 1148.1,435.1 1148.7,443 1154.7,443 1154,429.8 1142.8,425.8 1139.5,419.2 1138.1,408.6 1131.5,402 1122.3,395.3 1115.6,387.4 1109,383.4 1099.7,380.1 1102.4,375.5 1103.7,369.5 1113,369.5 1121.6,364.9 1121.6,352.5" fill="none" stroke="#0a0a0a" stroke-width="3.4" stroke-linejoin="round"/>
<g fill="#7b7b7b"><use href="#bag" x="1025.6" y="840.1"/><use href="#bag" x="1035.6" y="837.6"/><use href="#bag" x="1049.6" y="840.5"/><use href="#bag" x="1020.4" y="849.0"/><use href="#bag" x="1030.1" y="849.6"/><use href="#bag" x="1042.3" y="848.4"/><use href="#bag" x="1055.5" y="850.0"/><use href="#bag" x="1064.2" y="849.5"/><use href="#bag" x="1077.1" y="850.8"/><use href="#bag" x="1004.3" y="860.0"/><use href="#bag" x="1016.4" y="859.0"/><use href="#bag" x="1027.0" y="860.1"/><use href="#bag" x="1037.9" y="859.6"/><use href="#bag" x="1050.7" y="861.5"/><use href="#bag" x="1060.4" y="860.4"/><use href="#bag" x="1069.8" y="860.6"/><use href="#bag" x="1084.2" y="861.7"/><use href="#bag" x="994.3" y="871.3"/><use href="#bag" x="1006.1" y="869.2"/><use href="#bag" x="1019.0" y="871.7"/><use href="#bag" x="1028.9" y="870.0"/><use href="#bag" x="1042.7" y="871.8"/><use href="#bag" x="1055.6" y="871.7"/><use href="#bag" x="1064.4" y="869.9"/><use href="#bag" x="1076.3" y="871.8"/><use href="#bag" x="1090.8" y="868.9"/><use href="#bag" x="967.2" y="880.7"/><use href="#bag" x="989.0" y="880.4"/><use href="#bag" x="1002.3" y="881.0"/><use href="#bag" x="1016.8" y="881.5"/><use href="#bag" x="1026.1" y="881.2"/><use href="#bag" x="1038.4" y="879.0"/><use href="#bag" x="1051.0" y="881.9"/><use href="#bag" x="1062.4" y="881.9"/><use href="#bag" x="1071.5" y="880.3"/><use href="#bag" x="1081.5" y="881.3"/><use href="#bag" x="1092.8" y="879.0"/><use href="#bag" x="972.7" y="889.5"/><use href="#bag" x="982.5" y="889.9"/><use href="#bag" x="994.5" y="890.7"/><use href="#bag" x="1005.6" y="892.7"/><use href="#bag" x="1020.1" y="889.8"/><use href="#bag" x="1029.8" y="890.6"/><use href="#bag" x="1041.8" y="889.7"/><use href="#bag" x="1055.7" y="893.2"/><use href="#bag" x="1065.3" y="891.2"/><use href="#bag" x="1074.9" y="889.7"/><use href="#bag" x="1087.7" y="890.3"/><use href="#bag" x="980.1" y="900.3"/><use href="#bag" x="991.7" y="899.9"/><use href="#bag" x="1003.1" y="903.7"/><use href="#bag" x="1016.3" y="902.5"/><use href="#bag" x="1024.8" y="901.2"/><use href="#bag" x="1035.8" y="902.8"/><use href="#bag" x="1049.2" y="902.9"/><use href="#bag" x="1059.6" y="900.6"/><use href="#bag" x="1073.6" y="903.7"/><use href="#bag" x="1085.3" y="903.0"/><use href="#bag" x="982.6" y="911.4"/><use href="#bag" x="995.3" y="913.0"/><use href="#bag" x="1010.3" y="912.0"/><use href="#bag" x="1021.7" y="914.2"/><use href="#bag" x="1033.3" y="911.7"/><use href="#bag" x="1041.1" y="911.2"/><use href="#bag" x="1052.5" y="911.1"/><use href="#bag" x="1066.1" y="913.9"/><use href="#bag" x="1078.7" y="912.2"/><use href="#bag" x="1089.3" y="913.4"/><use href="#bag" x="1002.2" y="924.0"/><use href="#bag" x="1016.9" y="922.3"/><use href="#bag" x="1025.5" y="924.5"/><use href="#bag" x="1038.6" y="921.4"/><use href="#bag" x="1047.1" y="921.4"/><use href="#bag" x="1062.5" y="924.0"/><use href="#bag" x="1070.2" y="924.1"/><use href="#bag" x="1085.9" y="923.4"/><use href="#bag" x="1009.6" y="932.1"/><use href="#bag" x="1018.3" y="932.4"/><use href="#bag" x="1029.7" y="933.6"/><use href="#bag" x="1041.3" y="932.9"/><use href="#bag" x="1052.2" y="934.9"/><use href="#bag" x="1064.8" y="933.1"/><use href="#bag" x="1077.4" y="934.9"/><use href="#bag" x="1015.6" y="944.0"/><use href="#bag" x="1025.1" y="943.8"/><use href="#bag" x="1037.8" y="944.9"/><use href="#bag" x="1047.0" y="944.0"/><use href="#bag" x="1059.2" y="942.9"/><use href="#bag" x="1073.4" y="943.8"/><use href="#bag" x="864.500" y="889"/></g>
<g fill="#e6e6e6" stroke="#8a8a8a" stroke-width=".4"><use href="#bag" x="903.2" y="250.0"/><use href="#bag" x="895.8" y="266.2"/><use href="#bag" x="897.0" y="273.8"/><use href="#bag" x="904.5" y="273.8"/><use href="#bag" x="915.8" y="268.8"/><use href="#bag" x="930.8" y="268.8"/><use href="#bag" x="940.8" y="250.0"/><use href="#bag" x="953.2" y="265.0"/><use href="#bag" x="980.8" y="271.2"/><use href="#bag" x="933.2" y="276.2"/><use href="#bag" x="918.2" y="280.0"/><use href="#bag" x="927.0" y="280.0"/><use href="#bag" x="899.5" y="295.0"/><use href="#bag" x="930.8" y="290.0"/><use href="#bag" x="944.5" y="290.0"/><use href="#bag" x="909.5" y="312.5"/><use href="#bag" x="953.2" y="316.2"/><use href="#bag" x="979.5" y="352.5"/><use href="#bag" x="958.2" y="366.2"/><use href="#bag" x="983.2" y="370.0"/><use href="#bag" x="998.2" y="365.0"/><use href="#bag" x="1027.0" y="357.5"/><use href="#bag" x="1054.5" y="357.5"/><use href="#bag" x="1069.5" y="357.5"/><use href="#bag" x="1109.5" y="353.8"/><use href="#bag" x="1082.0" y="367.5"/><use href="#bag" x="1094.5" y="366.2"/><use href="#bag" x="1114.5" y="361.2"/><use href="#bag" x="990.8" y="392.5"/><use href="#bag" x="1032.0" y="378.8"/><use href="#bag" x="1038.2" y="387.5"/><use href="#bag" x="1049.5" y="385.0"/><use href="#bag" x="1095.8" y="381.2"/><use href="#bag" x="1082.0" y="385.0"/><use href="#bag" x="1059.5" y="400.0"/><use href="#bag" x="1052.0" y="408.8"/><use href="#bag" x="1064.5" y="413.8"/><use href="#bag" x="1080.8" y="407.5"/><use href="#bag" x="1109.5" y="408.8"/><use href="#bag" x="1069.5" y="441.2"/></g>
<path d="M567.500,285.500 L571.500,279 L575.500,285.500 M569.300,276 L571.500,279.400 L573.700,276" stroke="#d8863b" stroke-width="1.800" fill="none"/><path d="M591.500,301.500 L596,294.500 L600.500,301.500 M593.600,291.500 L596,295 L598.400,291.500" stroke="#d8863b" stroke-width="1.800" fill="none"/>
<path d="M626,390.500 L631.500,383 L637,390.500 M628.300,379 L631.500,383.500 L634.700,379" stroke="#b5201c" stroke-width="2.200" fill="none"/>
<circle cx="1243.300" cy="782" r="2.800" fill="#7a3b10"/><circle cx="1243.300" cy="782" r="1.500" fill="#000"/>
<circle cx="1219.3" cy="823.5" r="3.300" fill="#f5e467" stroke="#d9c94e" stroke-width=".5"/><circle cx="1219.3" cy="823.5" r="1.600" fill="#111"/><circle cx="1110.5" cy="842.7" r="3.300" fill="#f5e467" stroke="#d9c94e" stroke-width=".5"/><circle cx="1110.5" cy="842.7" r="1.600" fill="#111"/><circle cx="1135" cy="917" r="3.300" fill="#f5e467" stroke="#d9c94e" stroke-width=".5"/><circle cx="1135" cy="917" r="1.600" fill="#111"/><circle cx="1108.2" cy="903.6" r="3.300" fill="#d6f7d4" stroke="#d9c94e" stroke-width=".5"/><circle cx="1108.2" cy="903.6" r="1.600" fill="#111"/><circle cx="386.2" cy="316.2" r="3.300" fill="#f0e060" stroke="#d9c94e" stroke-width=".5"/><circle cx="386.2" cy="316.2" r="1.600" fill="#111"/>
<text x="207.5" y="55.7" font-size="18" text-anchor="middle" textLength="60" lengthAdjust="spacingAndGlyphs" fill="#1f1f1f" stroke="#fff" stroke-width="3.2" stroke-linejoin="round" paint-order="stroke" font-weight="bold">SAHARA</text>
<text x="268" y="146.9" font-size="18" text-anchor="middle" textLength="116" lengthAdjust="spacing" fill="#1f1f1f" stroke="#fff" stroke-width="3.2" stroke-linejoin="round" paint-order="stroke" font-weight="bold">MAURITANIA</text>
<text x="445.6" y="195.4" font-size="18" text-anchor="middle" textLength="44" lengthAdjust="spacingAndGlyphs" fill="#1f1f1f" stroke="#fff" stroke-width="3.2" stroke-linejoin="round" paint-order="stroke" font-weight="bold">MALI</text>
<text x="186" y="238.1" font-size="18" text-anchor="middle" textLength="82.5" lengthAdjust="spacingAndGlyphs" fill="#1f1f1f" stroke="#fff" stroke-width="3.2" stroke-linejoin="round" paint-order="stroke" font-weight="bold">SENEGAL</text>
<text x="649" y="193.9" font-size="18" text-anchor="middle" textLength="55" lengthAdjust="spacingAndGlyphs" fill="#1f1f1f" stroke="#fff" stroke-width="3.2" stroke-linejoin="round" paint-order="stroke" font-weight="bold">NIGER</text>
<text x="826" y="235.1" font-size="18" text-anchor="middle" textLength="52" lengthAdjust="spacingAndGlyphs" fill="#1f1f1f" stroke="#fff" stroke-width="3.2" stroke-linejoin="round" paint-order="stroke" font-weight="bold">CHAD</text>
<text x="1322" y="62.4" font-size="18" text-anchor="middle" textLength="56" lengthAdjust="spacingAndGlyphs" fill="#1f1f1f" stroke="#fff" stroke-width="3.2" stroke-linejoin="round" paint-order="stroke" font-weight="bold">SAUDI</text>
<text x="1322" y="82.4" font-size="18" text-anchor="middle" textLength="67.5" lengthAdjust="spacingAndGlyphs" fill="#1f1f1f" stroke="#fff" stroke-width="3.2" stroke-linejoin="round" paint-order="stroke" font-weight="bold">ARABIA</text>
<text x="1506" y="55" font-size="13.2" text-anchor="middle" textLength="91" lengthAdjust="spacingAndGlyphs" fill="#1f1f1f" stroke="#fff" stroke-width="3.2" stroke-linejoin="round" paint-order="stroke" font-weight="bold">UNITED ARAB</text>
<text x="1505.7" y="70.2" font-size="13.2" text-anchor="middle" textLength="66" lengthAdjust="spacingAndGlyphs" fill="#1f1f1f" stroke="#fff" stroke-width="3.2" stroke-linejoin="round" paint-order="stroke" font-weight="bold">EMIRATES</text>
<text x="1559.7" y="113.9" font-size="18" text-anchor="middle" textLength="56" lengthAdjust="spacing" fill="#1f1f1f" stroke="#fff" stroke-width="3.2" stroke-linejoin="round" paint-order="stroke" font-weight="bold">OMAN</text>
<text x="1380" y="223.9" font-size="18" text-anchor="middle" textLength="60" lengthAdjust="spacingAndGlyphs" fill="#1f1f1f" stroke="#fff" stroke-width="3.2" stroke-linejoin="round" paint-order="stroke" font-weight="bold">YEMEN</text>
<text x="1042.5" y="264.4" font-size="18" text-anchor="middle" textLength="63" lengthAdjust="spacingAndGlyphs" fill="#1f1f1f" stroke="#fff" stroke-width="3.2" stroke-linejoin="round" paint-order="stroke" font-weight="bold">SUDAN</text>
<text x="182.5" y="293.8" font-size="14.5" text-anchor="middle" textLength="52" lengthAdjust="spacingAndGlyphs" fill="#1f1f1f" stroke="#fff" stroke-width="3.2" stroke-linejoin="round" paint-order="stroke" font-weight="bold">GUINEA-</text>
<text x="183.7" y="308.1" font-size="14.5" text-anchor="middle" textLength="47.5" lengthAdjust="spacingAndGlyphs" fill="#1f1f1f" stroke="#fff" stroke-width="3.2" stroke-linejoin="round" paint-order="stroke" font-weight="bold">BISSAU</text>
<text x="258" y="324.3" font-size="15" text-anchor="middle" textLength="56" lengthAdjust="spacingAndGlyphs" fill="#1f1f1f" stroke="#fff" stroke-width="3.2" stroke-linejoin="round" paint-order="stroke" font-weight="bold">GUINEA</text>
<text x="244" y="360.6" font-size="14.5" text-anchor="middle" textLength="46" lengthAdjust="spacingAndGlyphs" fill="#1f1f1f" stroke="#fff" stroke-width="3.2" stroke-linejoin="round" paint-order="stroke" font-weight="bold">SIERRA</text>
<text x="244" y="375.6" font-size="14.5" text-anchor="middle" textLength="43" lengthAdjust="spacingAndGlyphs" fill="#1f1f1f" stroke="#fff" stroke-width="3.2" stroke-linejoin="round" paint-order="stroke" font-weight="bold">LEONE</text>
<text x="291" y="408.8" font-size="14.5" text-anchor="middle" textLength="50" lengthAdjust="spacingAndGlyphs" fill="#1f1f1f" stroke="#fff" stroke-width="3.2" stroke-linejoin="round" paint-order="stroke" font-weight="bold">LIBERIA</text>
<text x="365.7" y="374.2" font-size="15.5" text-anchor="middle" textLength="44" lengthAdjust="spacingAndGlyphs" fill="#1f1f1f" stroke="#fff" stroke-width="3.2" stroke-linejoin="round" paint-order="stroke" font-weight="bold">IVORY</text>
<text x="366" y="391" font-size="15.5" text-anchor="middle" textLength="48" lengthAdjust="spacingAndGlyphs" fill="#1f1f1f" stroke="#fff" stroke-width="3.2" stroke-linejoin="round" paint-order="stroke" font-weight="bold">COAST</text>
<text x="446.7" y="400.5" font-size="15.5" text-anchor="middle" textLength="53" lengthAdjust="spacingAndGlyphs" fill="#1f1f1f" stroke="#fff" stroke-width="3.2" stroke-linejoin="round" paint-order="stroke" font-weight="bold">GHANA</text>
<text x="489.7" y="363.8" font-size="14.5" text-anchor="middle" textLength="39.5" lengthAdjust="spacingAndGlyphs" fill="#1f1f1f" stroke="#fff" stroke-width="3.2" stroke-linejoin="round" paint-order="stroke" font-weight="bold">TOGO</text>
<text x="515.5" y="333.1" font-size="14.5" text-anchor="middle" textLength="44" lengthAdjust="spacingAndGlyphs" fill="#1f1f1f" stroke="#fff" stroke-width="3.2" stroke-linejoin="round" paint-order="stroke" font-weight="bold">BENIN</text>
<text x="438.5" y="287.3" font-size="15" text-anchor="middle" textLength="63" lengthAdjust="spacingAndGlyphs" fill="#1f1f1f" stroke="#fff" stroke-width="3.2" stroke-linejoin="round" paint-order="stroke" font-weight="bold">BURKINA</text>
<text x="439.7" y="303.3" font-size="15" text-anchor="middle" textLength="38" lengthAdjust="spacingAndGlyphs" fill="#1f1f1f" stroke="#fff" stroke-width="3.2" stroke-linejoin="round" paint-order="stroke" font-weight="bold">FASO</text>
<text x="624" y="347.9" font-size="18" text-anchor="middle" textLength="73.5" lengthAdjust="spacingAndGlyphs" fill="#1f1f1f" stroke="#fff" stroke-width="3.2" stroke-linejoin="round" paint-order="stroke" font-weight="bold">NIGERIA</text>
<text x="702.7" y="439.9" font-size="17.5" text-anchor="middle" textLength="106" lengthAdjust="spacing" fill="#1f1f1f" stroke="#fff" stroke-width="3.2" stroke-linejoin="round" paint-order="stroke" font-weight="bold">CAMEROON</text>
<text x="860" y="390.3" font-size="15" text-anchor="middle" textLength="65" lengthAdjust="spacingAndGlyphs" fill="#1f1f1f" stroke="#fff" stroke-width="3.2" stroke-linejoin="round" paint-order="stroke" font-weight="bold">CENTRAL</text>
<text x="860" y="406.3" font-size="15" text-anchor="middle" textLength="64" lengthAdjust="spacingAndGlyphs" fill="#1f1f1f" stroke="#fff" stroke-width="3.2" stroke-linejoin="round" paint-order="stroke" font-weight="bold">AFRICAN</text>
<text x="860" y="422.8" font-size="15" text-anchor="middle" textLength="69" lengthAdjust="spacingAndGlyphs" fill="#1f1f1f" stroke="#fff" stroke-width="3.2" stroke-linejoin="round" paint-order="stroke" font-weight="bold">REPUBLIC</text>
<text x="1043" y="382.4" font-size="18" text-anchor="middle" textLength="61" lengthAdjust="spacingAndGlyphs" fill="#1f1f1f" stroke="#fff" stroke-width="3.2" stroke-linejoin="round" paint-order="stroke" font-weight="bold">SOUTH</text>
<text x="1043" y="402.4" font-size="18" text-anchor="middle" textLength="63" lengthAdjust="spacingAndGlyphs" fill="#1f1f1f" stroke="#fff" stroke-width="3.2" stroke-linejoin="round" paint-order="stroke" font-weight="bold">SUDAN</text>
<text x="670" y="493.6" font-size="13.7" text-anchor="middle" textLength="86" lengthAdjust="spacingAndGlyphs" fill="#1f1f1f" stroke="#fff" stroke-width="3.2" stroke-linejoin="round" paint-order="stroke" font-weight="bold">EQUATORIAL</text>
<text x="670" y="508.6" font-size="13.7" text-anchor="middle" textLength="50.5" lengthAdjust="spacingAndGlyphs" fill="#1f1f1f" stroke="#fff" stroke-width="3.2" stroke-linejoin="round" paint-order="stroke" font-weight="bold">GUINEA</text>
<text x="775" y="521.1" font-size="14.5" text-anchor="middle" textLength="69" lengthAdjust="spacingAndGlyphs" fill="#1f1f1f" stroke="#fff" stroke-width="3.2" stroke-linejoin="round" paint-order="stroke" font-weight="bold">REPUBLIC</text>
<text x="774.5" y="538.1" font-size="14.5" text-anchor="middle" textLength="51" lengthAdjust="spacingAndGlyphs" fill="#1f1f1f" stroke="#fff" stroke-width="3.2" stroke-linejoin="round" paint-order="stroke" font-weight="bold">OF THE</text>
<text x="774.5" y="553.8" font-size="14.5" text-anchor="middle" textLength="53" lengthAdjust="spacingAndGlyphs" fill="#1f1f1f" stroke="#fff" stroke-width="3.2" stroke-linejoin="round" paint-order="stroke" font-weight="bold">CONGO</text>
<text x="1088" y="507.8" font-size="15" text-anchor="middle" textLength="63" lengthAdjust="spacingAndGlyphs" fill="#1f1f1f" stroke="#fff" stroke-width="3.2" stroke-linejoin="round" paint-order="stroke" font-weight="bold">UGANDA</text>
<text x="912.5" y="532.9" font-size="18" text-anchor="middle" textLength="121" lengthAdjust="spacingAndGlyphs" fill="#1f1f1f" stroke="#fff" stroke-width="3.2" stroke-linejoin="round" paint-order="stroke" font-weight="bold">DEMOCRATIC</text>
<text x="912" y="554.4" font-size="18" text-anchor="middle" textLength="115" lengthAdjust="spacingAndGlyphs" fill="#1f1f1f" stroke="#fff" stroke-width="3.2" stroke-linejoin="round" paint-order="stroke" font-weight="bold">REPUBLIC OF</text>
<text x="912" y="575.1" font-size="18" text-anchor="middle" textLength="106" lengthAdjust="spacingAndGlyphs" fill="#1f1f1f" stroke="#fff" stroke-width="3.2" stroke-linejoin="round" paint-order="stroke" font-weight="bold">THE CONGO</text>
<text x="694.7" y="543.1" font-size="14.5" text-anchor="middle" textLength="52" lengthAdjust="spacingAndGlyphs" fill="#1f1f1f" stroke="#fff" stroke-width="3.2" stroke-linejoin="round" paint-order="stroke" font-weight="bold">GABON</text>
<text x="1040" y="567.9" font-size="13.7" text-anchor="middle" textLength="61" lengthAdjust="spacingAndGlyphs" fill="#1f1f1f" stroke="#fff" stroke-width="3.2" stroke-linejoin="round" paint-order="stroke" font-weight="bold">RWANDA</text>
<text x="1040" y="599.9" font-size="13.7" text-anchor="middle" textLength="61" lengthAdjust="spacingAndGlyphs" fill="#1f1f1f" stroke="#fff" stroke-width="3.2" stroke-linejoin="round" paint-order="stroke" font-weight="bold">BURUNDI</text>
<text x="811.5" y="765.1" font-size="18" text-anchor="middle" textLength="75" lengthAdjust="spacingAndGlyphs" fill="#1f1f1f" stroke="#fff" stroke-width="3.2" stroke-linejoin="round" paint-order="stroke" font-weight="bold">ANGOLA</text>
<text x="1134.5" y="652.4" font-size="18" text-anchor="middle" textLength="96.5" lengthAdjust="spacing" fill="#1f1f1f" stroke="#fff" stroke-width="3.2" stroke-linejoin="round" paint-order="stroke" font-weight="bold">TANZANIA</text>
<text x="1226" y="366.4" font-size="18" text-anchor="middle" textLength="85.5" lengthAdjust="spacingAndGlyphs" fill="#1f1f1f" stroke="#fff" stroke-width="3.2" stroke-linejoin="round" paint-order="stroke" font-weight="bold">ETHIOPIA</text>
<text x="1373" y="421.4" font-size="18" text-anchor="middle" textLength="83" lengthAdjust="spacingAndGlyphs" fill="#1f1f1f" stroke="#fff" stroke-width="3.2" stroke-linejoin="round" paint-order="stroke" font-weight="bold">SOMALIA</text>
<text x="1192" y="521.9" font-size="18" text-anchor="middle" textLength="59" lengthAdjust="spacingAndGlyphs" fill="#1f1f1f" stroke="#fff" stroke-width="3.2" stroke-linejoin="round" paint-order="stroke" font-weight="bold">KENYA</text>
<text x="993" y="802.9" font-size="18" text-anchor="middle" textLength="70" lengthAdjust="spacingAndGlyphs" fill="#1f1f1f" stroke="#fff" stroke-width="3.2" stroke-linejoin="round" paint-order="stroke" font-weight="bold">ZAMBIA</text>
<text x="799.5" y="946.4" font-size="18" text-anchor="middle" textLength="80" lengthAdjust="spacing" fill="#1f1f1f" stroke="#fff" stroke-width="3.2" stroke-linejoin="round" paint-order="stroke" font-weight="bold">NAMIBIA</text>
<text x="1133" y="883.4" font-size="18" text-anchor="middle" textLength="126.5" lengthAdjust="spacingAndGlyphs" fill="#1f1f1f" stroke="#fff" stroke-width="3.2" stroke-linejoin="round" paint-order="stroke" font-weight="bold">MOZAMBIQUE</text>
<text x="1114" y="786.1" font-size="14.5" text-anchor="middle" textLength="60" lengthAdjust="spacing" fill="#1f1f1f" stroke="#fff" stroke-width="3.2" stroke-linejoin="round" paint-order="stroke" font-weight="bold">MALAWI</text>
<text x="1361.7" y="909.4" font-size="18" text-anchor="middle" textLength="132" lengthAdjust="spacingAndGlyphs" fill="#1f1f1f" stroke="#fff" stroke-width="3.2" stroke-linejoin="round" paint-order="stroke" font-weight="bold">MADAGASCAR</text>
<text x="1303" y="760.7" font-size="13.2" text-anchor="middle" textLength="69" lengthAdjust="spacingAndGlyphs" fill="#1f1f1f" stroke="#fff" stroke-width="3.2" stroke-linejoin="round" paint-order="stroke" font-weight="bold">COMOROS</text>
<text x="1574.5" y="926.7" font-size="13.2" text-anchor="middle" textLength="81" lengthAdjust="spacing" fill="#1f1f1f" stroke="#fff" stroke-width="3.2" stroke-linejoin="round" paint-order="stroke" font-weight="bold">MAURITIUS</text>
<text x="9" y="222.2" font-size="13.2" text-anchor="middle" textLength="88" lengthAdjust="spacing" fill="#1f1f1f" stroke="#fff" stroke-width="3.2" stroke-linejoin="round" paint-order="stroke" font-weight="bold">CAPE VERDE</text>
<text x="1636" y="236.500" font-size="19" font-style="italic" fill="#6f809c" letter-spacing="2.6" stroke="#a5b7d2" stroke-width="1" paint-order="stroke">Arabian</text>
<text x="1660" y="264.500" font-size="19" font-style="italic" fill="#6f809c" letter-spacing="2.6" stroke="#a5b7d2" stroke-width="1" paint-order="stroke">Sea</text>
<g opacity=".92"><circle cx="37.600" cy="933.200" r="11.200" fill="#f4f6fa" stroke="#73819a" stroke-width="1.400"/><path d="M32,940 C31.500,934 32,926.500 38.500,926 C44,925.700 46.500,931 44.500,935 C42.500,939 37,939.500 32,940Z" fill="#73819a"/><path d="M38.800,928.600 l1,2.400 l2.400,1 l-2.400,1 l-1,2.400 l-1,-2.400 l-2.400,-1 l2.400,-1z" fill="#f4f6fa"/><text x="52.600" y="938.600" font-size="19" font-weight="bold" fill="#f4f6fa" stroke="#73819a" stroke-width="2.400" stroke-linejoin="round" paint-order="stroke" textLength="74" lengthAdjust="spacingAndGlyphs">mapbox</text></g>
</svg>
<div class="ctrl" style="top:11px;height:70px">
  <svg width="35" height="70" viewBox="0 0 35 70"><path d="M17.500 11v13M11 17.500h13M11 52.500h13" stroke="#222" stroke-width="2.600" stroke-linecap="round"/><path d="M0 35h35" stroke="#ddd" stroke-width="1"/></svg>
</div>
<div class="ctrl" style="top:92px;height:35px">
  <svg width="35" height="35" viewBox="0 0 35 35"><path d="M12.300 13.200A7 7 0 1 1 11 20.500" fill="none" stroke="#222" stroke-width="2" stroke-linecap="round"/><path d="M10.200 9.600v5.200h5.200" fill="none" stroke="#222" stroke-width="2" stroke-linecap="round" stroke-linejoin="round"/></svg>
</div>
</div>

<!-- popup -->
<div class="abs pop">
  <div class="t" style="left:13.500px;top:10.500px;font-size:15.400px;letter-spacing:0.343px">South Sudan - Acute Food Insecurity and</div>
  <div class="t" style="left:13.500px;top:33.500px;font-size:15.400px;letter-spacing:0.392px">Acute Malnutrition Situation for February -</div>
  <div class="t" style="left:13.500px;top:56.500px;font-size:15.400px;letter-spacing:0.436px">March 2022 and Projections for April - July</div>
  <div class="t" style="left:13.500px;top:79.500px;font-size:15.400px;letter-spacing:0.363px">2022</div>
  <div class="abs" style="left:13px;top:112px;width:154px;height:17.500px;background:linear-gradient(90deg,#d3f8d0 0 22px,#f8e858 22px 58px,#de7f2b 58px 116.500px,#b92519 116.500px 152px,#5e0d08 152px)"></div>
  <div class="t" style="left:13.500px;top:145px;font-size:13.300px;letter-spacing:0.765px">Phase 3+: 7,744,000 (63%)</div>
</div>

<!-- arrow -->
<div class="abs" style="left:1652.500px;top:327.500px;width:36px;height:36px;border-radius:50%;background:#fff;box-shadow:0 1px 4px rgba(0,0,0,.35)"><svg width="36" height="36" viewBox="0 0 36 36"><path d="M15.500 13l5 5-5 5" fill="none" stroke="#222" stroke-width="1.800"/></svg></div>

<!-- sidebar -->
<div class="t sb b" style="left:1706px;top:53.6px;letter-spacing:-0.186px">IPC Map Key: Acute Food Insecurity</div>
<div class="t sb" style="left:1706px;top:83.6px;letter-spacing:-0.001px">Mapped Phase represents highest severity affecting at</div>
<div class="t sb" style="left:1706px;top:101.6px;letter-spacing:0.095px">least 20% of the population</div>
<div class="sq" style="top:129.500px;background:#d3f8d0"></div><div class="t sb" style="left:1742px;top:129.6px;letter-spacing:0.095px">1-Minimal</div>
<div class="sq" style="top:152px;background:#f8e858"></div><div class="t sb" style="left:1742px;top:152.1px;letter-spacing:-0.380px">2-Stressed</div>
<div class="sq" style="top:174.500px;background:#de7f2b"></div><div class="t sb" style="left:1742px;top:174.6px;letter-spacing:-0.383px">3-Crisis</div>
<div class="sq" style="top:197px;background:#b92519"></div><div class="t sb" style="left:1742px;top:197.1px;letter-spacing:-0.098px">4-Emergency</div>
<div class="sq" style="top:219.500px;background:#5e0d08"></div><div class="t sb" style="left:1742px;top:219.6px;letter-spacing:-0.209px">5-Famine</div>
<div class="abs" style="left:1709px;top:242.500px;width:15px;height:15px;background:repeating-linear-gradient(135deg,#6a0f0b 0 2.600px,#fff 2.600px 4.300px)"></div><div class="t sb" style="left:1739px;top:242.1px;letter-spacing:-0.233px">Famine Likely</div>
<div class="sq" style="top:270.500px;background:#b3b3b3"></div><div class="t sb" style="left:1742px;top:270.6px;letter-spacing:0.016px">Areas with inadequate evidence</div>
<div class="sq" style="top:293px;background:#fff"></div><div class="t sb" style="left:1742px;top:293.1px;letter-spacing:-0.158px">Areas not analyzed</div>
<div class="t sb b" style="left:1706px;top:317.6px;letter-spacing:-0.156px">Map Symbols</div>
<div class="abs" style="left:1709px;top:341px;width:17px;height:17px;border-radius:50%;background:#e6e6e6"></div><div class="abs" style="left:1714.500px;top:346.500px;width:6px;height:6px;border-radius:50%;background:#111"></div>
<div class="t sb" style="left:1739px;top:342.1px;letter-spacing:-0.017px">Urban Settlement Classification</div>
<svg class="abs" style="left:1709px;top:370px" width="17" height="17" viewBox="0 0 17 17"><path d="M8.500 6L3 15.500M8.500 6L14 15.500" stroke="#111" stroke-width="2.400" fill="none"/><path d="M5.500 2.500L8.500 6.500L11.500 2.500" stroke="#111" stroke-width="1.800" fill="none"/></svg>
<div class="t sb" style="left:1739px;top:370.6px;letter-spacing:-0.057px">IDPs/Other Settlement Classification</div>
<svg class="abs" style="left:1709px;top:397px" width="17" height="17" viewBox="0 0 17 17"><path d="M8.500 1L1.500 8.500H3.500V16H7V11.500H10V16H13.500V8.500H15.500Z" fill="#111"/></svg>
<div class="t sb" style="left:1739px;top:398.6px;letter-spacing:-0.018px">HouseHold Group Settlement Classification</div>
<div class="t sb b" style="left:1706px;top:429.1px;letter-spacing:-0.032px">Area recieves significant humanitarian food</div>
<div class="t sb" style="left:1706px;top:447.1px;letter-spacing:-0.151px"><b>assistance</b>(accounted for in Phase Classification)</div>
<svg class="abs" style="left:1709px;top:475px" width="18" height="16" viewBox="0 0 18 16"><path d="M4.500 1h9l-1.200 2.500c3 .8 5.200 3.500 5.200 7.500 0 3-1.500 4.500-4 4.500h-9c-2.500 0-4-1.500-4-4.500 0-4 2.200-6.700 5.200-7.500z" fill="#e2e2e2"/></svg>
<div class="t sb" style="left:1739px;top:474.6px;letter-spacing:-0.054px">At least 25% of households meet 25-50% of</div>
<div class="t sb" style="left:1739px;top:493.6px;letter-spacing:0.076px">caloric needs from humanitarian food</div>
<div class="t sb" style="left:1739px;top:512.6px;letter-spacing:-0.383px">assistance</div>
<svg class="abs" style="left:1709px;top:541px" width="18" height="16" viewBox="0 0 18 16"><path d="M4.500 1h9l-1.200 2.500c3 .8 5.200 3.500 5.200 7.500 0 3-1.500 4.500-4 4.500h-9c-2.500 0-4-1.500-4-4.500 0-4 2.200-6.700 5.200-7.500z" fill="#7a7a7a"/></svg>
<div class="t sb" style="left:1739px;top:541.1px;letter-spacing:-0.060px">At least 25% of households meet over 50% of</div>
<div class="t sb" style="left:1739px;top:560.1px;letter-spacing:0.076px">caloric needs from humanitarian food</div>
<div class="t sb" style="left:1739px;top:579.1px;letter-spacing:-0.383px">assistance</div>
<div class="t sb b" style="left:1706px;top:607.1px;letter-spacing:-0.212px">Area-specific Call Out Box</div>
<div class="t sb" style="left:1706px;top:631.1px;letter-spacing:-0.252px">Area Name</div>
<div class="abs" style="left:1706.500px;top:659.500px;width:237.500px;height:24px;border-left:1px solid #888;border-right:1px solid #888"></div>
<div class="abs" style="left:1707px;top:659.500px;width:236.500px;height:18px;border-top:1px solid #999;background:linear-gradient(90deg,#d3f8d0 0 24px,#f8e858 24px 71px,#de7f2b 71px 165px,#b92519 165px 212px,#5e0d08 212px)"></div>
<div class="t sb" style="left:1706px;top:689.6px;letter-spacing:-0.609px">0%</div>
<div class="t sb" style="left:1912px;top:689.6px;letter-spacing:-0.504px">100%</div>
<div class="t sb" style="left:1706px;top:714.1px;letter-spacing:0.011px">% of population in each phase</div>
<div class="t sb" style="left:1706px;top:732.1px;letter-spacing:-0.213px">Area Phase, Population in Phase 3 or above # and %</div>
<div class="abs" style="left:1707px;top:772px;width:311.500px;height:46.500px;border:1px solid #d0d0d0"></div>
<svg class="abs" style="left:1782px;top:788.500px" width="17" height="14" viewBox="0 0 17 14"><path d="M0 2.500L5 .5v11L0 13.500zM6 .5l5 2v11l-5-2zM12 2.500l5-2v11l-5 2z" fill="#222"/></svg>
<div class="t sb" style="left:1810px;top:788.1px;letter-spacing:0.161px">Download map image</div>

<div class="t" style="left:17px;top:958.500px;font-size:10.300px;color:#333;letter-spacing:0.364px">Disclaimer: The information shown on this map does not imply that the IPC and CH officially recognize or endorse physical and political boundaries.</div>
</body>
</html>
